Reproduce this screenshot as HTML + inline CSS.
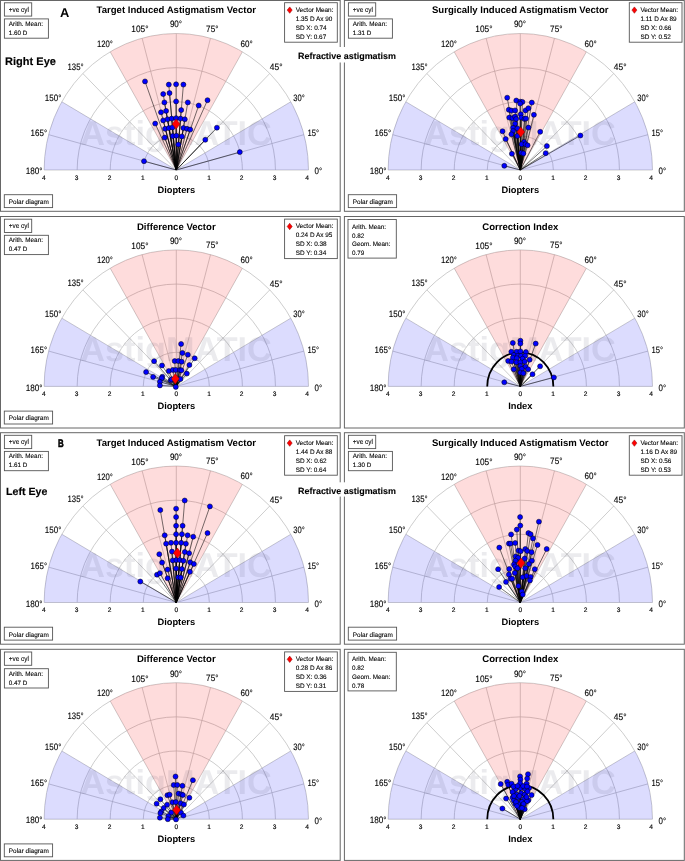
<!DOCTYPE html>
<html><head><meta charset="utf-8"><style>
html,body{margin:0;padding:0;background:#fff;}
svg{display:block;font-family:"Liberation Sans", sans-serif;will-change:transform;text-rendering:geometricPrecision;}
</style></head><body>
<svg width="685" height="861" viewBox="0 0 685 861">
<rect width="685" height="861" fill="#fff"/>
<g transform="translate(0,0)"><rect x="0.50" y="0.50" width="339.70" height="210.80" fill="#fff" stroke="#666" stroke-width="1"/><path d="M209.35,170.00 A33.05,34.12 0 0 0 143.25,170.00" fill="none" stroke="#b8b8b8" stroke-width="0.7"/><path d="M242.40,170.00 A66.10,68.25 0 0 0 110.20,170.00" fill="none" stroke="#b8b8b8" stroke-width="0.7"/><path d="M275.45,170.00 A99.15,102.38 0 0 0 77.15,170.00" fill="none" stroke="#b8b8b8" stroke-width="0.7"/><path d="M308.50,170.00 A132.20,136.50 0 0 0 44.10,170.00" fill="none" stroke="#b8b8b8" stroke-width="0.7"/><line x1="176.3" y1="170.0" x2="308.50" y2="170.00" stroke="#b8b8b8" stroke-width="0.7"/><line x1="176.3" y1="170.0" x2="304.00" y2="134.67" stroke="#b8b8b8" stroke-width="0.7"/><line x1="176.3" y1="170.0" x2="290.79" y2="101.75" stroke="#b8b8b8" stroke-width="0.7"/><line x1="176.3" y1="170.0" x2="269.78" y2="73.48" stroke="#b8b8b8" stroke-width="0.7"/><line x1="176.3" y1="170.0" x2="242.40" y2="51.79" stroke="#b8b8b8" stroke-width="0.7"/><line x1="176.3" y1="170.0" x2="210.52" y2="38.15" stroke="#b8b8b8" stroke-width="0.7"/><line x1="176.3" y1="170.0" x2="176.30" y2="33.50" stroke="#b8b8b8" stroke-width="0.7"/><line x1="176.3" y1="170.0" x2="142.08" y2="38.15" stroke="#b8b8b8" stroke-width="0.7"/><line x1="176.3" y1="170.0" x2="110.20" y2="51.79" stroke="#b8b8b8" stroke-width="0.7"/><line x1="176.3" y1="170.0" x2="82.82" y2="73.48" stroke="#b8b8b8" stroke-width="0.7"/><line x1="176.3" y1="170.0" x2="61.81" y2="101.75" stroke="#b8b8b8" stroke-width="0.7"/><line x1="176.3" y1="170.0" x2="48.60" y2="134.67" stroke="#b8b8b8" stroke-width="0.7"/><line x1="176.3" y1="170.0" x2="44.10" y2="170.00" stroke="#b8b8b8" stroke-width="0.7"/><path d="M176.30,170.00 L308.50,170.00 A132.20,136.50 0 0 0 290.79,101.75 Z" fill="rgba(20,20,245,0.15)"/><path d="M176.30,170.00 L61.81,101.75 A132.20,136.50 0 0 0 44.10,170.00 Z" fill="rgba(20,20,245,0.15)"/><path d="M176.30,170.00 L242.40,51.79 A132.20,136.50 0 0 0 110.20,51.79 Z" fill="rgba(250,20,20,0.15)"/><text x="80.30" y="144.70" font-size="34.5" font-weight="bold" textLength="191.5" lengthAdjust="spacingAndGlyphs" fill="rgba(60,60,90,0.10)">AstigMATIC</text><path d="M176.3,170.0L145.0,81.4M176.3,170.0L168.8,84.6M176.3,170.0L176.1,84.3M176.3,170.0L183.4,84.6M176.3,170.0L163.2,94.1M176.3,170.0L169.5,93.1M176.3,170.0L164.4,102.4M176.3,170.0L176.1,101.4M176.3,170.0L187.8,102.4M176.3,170.0L207.5,100.2M176.3,170.0L198.7,105.5M176.3,170.0L161.0,112.3M176.3,170.0L166.1,110.9M176.3,170.0L181.2,110.1M176.3,170.0L163.2,120.4M176.3,170.0L167.6,119.3M176.3,170.0L171.7,118.6M176.3,170.0L176.1,118.2M176.3,170.0L180.5,118.6M176.3,170.0L184.8,119.3M176.3,170.0L155.2,123.6M176.3,170.0L165.1,128.8M176.3,170.0L168.8,128.1M176.3,170.0L172.4,127.4M176.3,170.0L183.4,128.0M176.3,170.0L187.0,128.8M176.3,170.0L190.2,129.6M176.3,170.0L164.7,137.6M176.3,170.0L172.7,136.1M176.3,170.0L176.4,135.7M176.3,170.0L181.9,136.4M176.3,170.0L178.3,144.5M176.3,170.0L216.9,127.7M176.3,170.0L205.3,139.8M176.3,170.0L144.0,161.2M176.3,170.0L239.8,152.1" stroke="#000" stroke-width="0.55" fill="none"/><g fill="#0000ff" stroke="#000" stroke-width="0.5"><circle cx="145.0" cy="81.4" r="2.5"/><circle cx="168.8" cy="84.6" r="2.5"/><circle cx="176.1" cy="84.3" r="2.5"/><circle cx="183.4" cy="84.6" r="2.5"/><circle cx="163.2" cy="94.1" r="2.5"/><circle cx="169.5" cy="93.1" r="2.5"/><circle cx="164.4" cy="102.4" r="2.5"/><circle cx="176.1" cy="101.4" r="2.5"/><circle cx="187.8" cy="102.4" r="2.5"/><circle cx="207.5" cy="100.2" r="2.5"/><circle cx="198.7" cy="105.5" r="2.5"/><circle cx="161.0" cy="112.3" r="2.5"/><circle cx="166.1" cy="110.9" r="2.5"/><circle cx="181.2" cy="110.1" r="2.5"/><circle cx="163.2" cy="120.4" r="2.5"/><circle cx="167.6" cy="119.3" r="2.5"/><circle cx="171.7" cy="118.6" r="2.5"/><circle cx="176.1" cy="118.2" r="2.5"/><circle cx="180.5" cy="118.6" r="2.5"/><circle cx="184.8" cy="119.3" r="2.5"/><circle cx="155.2" cy="123.6" r="2.5"/><circle cx="165.1" cy="128.8" r="2.5"/><circle cx="168.8" cy="128.1" r="2.5"/><circle cx="172.4" cy="127.4" r="2.5"/><circle cx="183.4" cy="128.0" r="2.5"/><circle cx="187.0" cy="128.8" r="2.5"/><circle cx="190.2" cy="129.6" r="2.5"/><circle cx="164.7" cy="137.6" r="2.5"/><circle cx="172.7" cy="136.1" r="2.5"/><circle cx="176.4" cy="135.7" r="2.5"/><circle cx="181.9" cy="136.4" r="2.5"/><circle cx="178.3" cy="144.5" r="2.5"/><circle cx="216.9" cy="127.7" r="2.5"/><circle cx="205.3" cy="139.8" r="2.5"/><circle cx="144.0" cy="161.2" r="2.5"/><circle cx="239.8" cy="152.1" r="2.5"/></g><path d="M176.10,118.90 L180.05,124.00 L176.10,129.10 L172.15,124.00 Z" fill="#f00" stroke="#800" stroke-width="0.5"/><text x="314.60" y="174.35" font-size="9.2" textLength="7.6" lengthAdjust="spacingAndGlyphs" fill="#000" stroke="#000" stroke-width="0.12">0°</text><text x="307.60" y="136.45" font-size="9.2" textLength="11.6" lengthAdjust="spacingAndGlyphs" fill="#000" stroke="#000" stroke-width="0.12">15°</text><text x="293.20" y="100.75" font-size="9.2" textLength="11.5" lengthAdjust="spacingAndGlyphs" fill="#000" stroke="#000" stroke-width="0.12">30°</text><text x="269.80" y="70.35" font-size="9.2" textLength="12.7" lengthAdjust="spacingAndGlyphs" fill="#000" stroke="#000" stroke-width="0.12">45°</text><text x="240.60" y="46.95" font-size="9.2" textLength="12.2" lengthAdjust="spacingAndGlyphs" fill="#000" stroke="#000" stroke-width="0.12">60°</text><text x="206.10" y="31.95" font-size="9.2" textLength="12.4" lengthAdjust="spacingAndGlyphs" fill="#000" stroke="#000" stroke-width="0.12">75°</text><text x="169.90" y="27.35" font-size="9.2" textLength="12.2" lengthAdjust="spacingAndGlyphs" fill="#000" stroke="#000" stroke-width="0.12">90°</text><text x="131.30" y="32.35" font-size="9.2" textLength="17.2" lengthAdjust="spacingAndGlyphs" fill="#000" stroke="#000" stroke-width="0.12">105°</text><text x="96.90" y="47.05" font-size="9.2" textLength="16.0" lengthAdjust="spacingAndGlyphs" fill="#000" stroke="#000" stroke-width="0.12">120°</text><text x="67.50" y="69.95" font-size="9.2" textLength="16.1" lengthAdjust="spacingAndGlyphs" fill="#000" stroke="#000" stroke-width="0.12">135°</text><text x="44.80" y="100.65" font-size="9.2" textLength="16.6" lengthAdjust="spacingAndGlyphs" fill="#000" stroke="#000" stroke-width="0.12">150°</text><text x="30.60" y="136.45" font-size="9.2" textLength="16.5" lengthAdjust="spacingAndGlyphs" fill="#000" stroke="#000" stroke-width="0.12">165°</text><text x="25.70" y="174.25" font-size="9.2" textLength="16.9" lengthAdjust="spacingAndGlyphs" fill="#000" stroke="#000" stroke-width="0.12">180°</text><text x="43.90" y="179.60" font-size="6.6" text-anchor="middle" fill="#000" stroke="#000" stroke-width="0.15">4</text><text x="76.70" y="179.60" font-size="6.6" text-anchor="middle" fill="#000" stroke="#000" stroke-width="0.15">3</text><text x="109.60" y="179.60" font-size="6.6" text-anchor="middle" fill="#000" stroke="#000" stroke-width="0.15">2</text><text x="142.90" y="179.60" font-size="6.6" text-anchor="middle" fill="#000" stroke="#000" stroke-width="0.15">1</text><text x="176.30" y="179.60" font-size="6.6" text-anchor="middle" fill="#000" stroke="#000" stroke-width="0.15">0</text><text x="209.10" y="179.60" font-size="6.6" text-anchor="middle" fill="#000" stroke="#000" stroke-width="0.15">1</text><text x="241.70" y="179.60" font-size="6.6" text-anchor="middle" fill="#000" stroke="#000" stroke-width="0.15">2</text><text x="274.50" y="179.60" font-size="6.6" text-anchor="middle" fill="#000" stroke="#000" stroke-width="0.15">3</text><text x="307.00" y="179.60" font-size="6.6" text-anchor="middle" fill="#000" stroke="#000" stroke-width="0.15">4</text><text x="176.30" y="192.50" font-size="9.3" font-weight="bold" text-anchor="middle" fill="#000">Diopters</text><text x="176.30" y="13.20" font-size="9.57" font-weight="bold" text-anchor="middle" fill="#000">Target Induced Astigmatism Vector</text><rect x="4.4" y="2.8" width="27.30" height="13.30" fill="#fff" stroke="#555" stroke-width="0.9"/><text x="8.80" y="11.90" font-size="7.0" textLength="20" lengthAdjust="spacingAndGlyphs" fill="#000" stroke="#000" stroke-width="0.1">+ve cyl</text><rect x="4.4" y="18.9" width="44.00" height="19.30" fill="#fff" stroke="#555" stroke-width="0.9"/><text x="8.80" y="25.80" font-size="6.33" fill="#000" stroke="#000" stroke-width="0.1">Arith. Mean:</text><text x="8.80" y="34.90" font-size="6.33" fill="#000" stroke="#000" stroke-width="0.1">1.60 D</text><g transform="translate(0.0,0.0)"><rect x="284.6" y="2.7" width="52.70" height="39.50" fill="#fff" stroke="#555" stroke-width="0.9"/><path d="M289.70,6.90 L292.20,10.10 L289.70,13.30 L287.20,10.10 Z" fill="#f00" stroke="#800" stroke-width="0.5"/><text x="295.70" y="11.80" font-size="6.42" fill="#000" stroke="#000" stroke-width="0.1">Vector Mean:</text><text x="295.70" y="20.80" font-size="6.42" fill="#000" stroke="#000" stroke-width="0.1">1.35 D Ax 90</text><text x="295.70" y="29.80" font-size="6.42" fill="#000" stroke="#000" stroke-width="0.1">SD X: 0.74</text><text x="295.70" y="38.80" font-size="6.42" fill="#000" stroke="#000" stroke-width="0.1">SD Y: 0.67</text></g><rect x="4.3" y="194.7" width="48.30" height="12.90" fill="#fff" stroke="#555" stroke-width="0.9"/><text x="8.80" y="204.10" font-size="6.43" fill="#000" stroke="#000" stroke-width="0.1">Polar diagram</text></g><g transform="translate(344.0,0)"><rect x="0.40" y="0.50" width="339.90" height="210.80" fill="#fff" stroke="#666" stroke-width="1"/><path d="M209.35,170.00 A33.05,34.12 0 0 0 143.25,170.00" fill="none" stroke="#b8b8b8" stroke-width="0.7"/><path d="M242.40,170.00 A66.10,68.25 0 0 0 110.20,170.00" fill="none" stroke="#b8b8b8" stroke-width="0.7"/><path d="M275.45,170.00 A99.15,102.38 0 0 0 77.15,170.00" fill="none" stroke="#b8b8b8" stroke-width="0.7"/><path d="M308.50,170.00 A132.20,136.50 0 0 0 44.10,170.00" fill="none" stroke="#b8b8b8" stroke-width="0.7"/><line x1="176.3" y1="170.0" x2="308.50" y2="170.00" stroke="#b8b8b8" stroke-width="0.7"/><line x1="176.3" y1="170.0" x2="304.00" y2="134.67" stroke="#b8b8b8" stroke-width="0.7"/><line x1="176.3" y1="170.0" x2="290.79" y2="101.75" stroke="#b8b8b8" stroke-width="0.7"/><line x1="176.3" y1="170.0" x2="269.78" y2="73.48" stroke="#b8b8b8" stroke-width="0.7"/><line x1="176.3" y1="170.0" x2="242.40" y2="51.79" stroke="#b8b8b8" stroke-width="0.7"/><line x1="176.3" y1="170.0" x2="210.52" y2="38.15" stroke="#b8b8b8" stroke-width="0.7"/><line x1="176.3" y1="170.0" x2="176.30" y2="33.50" stroke="#b8b8b8" stroke-width="0.7"/><line x1="176.3" y1="170.0" x2="142.08" y2="38.15" stroke="#b8b8b8" stroke-width="0.7"/><line x1="176.3" y1="170.0" x2="110.20" y2="51.79" stroke="#b8b8b8" stroke-width="0.7"/><line x1="176.3" y1="170.0" x2="82.82" y2="73.48" stroke="#b8b8b8" stroke-width="0.7"/><line x1="176.3" y1="170.0" x2="61.81" y2="101.75" stroke="#b8b8b8" stroke-width="0.7"/><line x1="176.3" y1="170.0" x2="48.60" y2="134.67" stroke="#b8b8b8" stroke-width="0.7"/><line x1="176.3" y1="170.0" x2="44.10" y2="170.00" stroke="#b8b8b8" stroke-width="0.7"/><path d="M176.30,170.00 L308.50,170.00 A132.20,136.50 0 0 0 290.79,101.75 Z" fill="rgba(20,20,245,0.15)"/><path d="M176.30,170.00 L61.81,101.75 A132.20,136.50 0 0 0 44.10,170.00 Z" fill="rgba(20,20,245,0.15)"/><path d="M176.30,170.00 L242.40,51.79 A132.20,136.50 0 0 0 110.20,51.79 Z" fill="rgba(250,20,20,0.15)"/><text x="80.30" y="144.70" font-size="34.5" font-weight="bold" textLength="191.5" lengthAdjust="spacingAndGlyphs" fill="rgba(60,60,90,0.10)">AstigMATIC</text><path d="M176.3,170.0L163.2,97.7M176.3,170.0L172.3,100.5M176.3,170.0L176.3,101.7M176.3,170.0L178.4,101.9M176.3,170.0L176.1,103.6M176.3,170.0L187.8,102.6M176.3,170.0L164.8,109.8M176.3,170.0L167.4,110.6M176.3,170.0L171.1,110.4M176.3,170.0L181.5,110.4M176.3,170.0L184.4,108.2M176.3,170.0L176.8,114.3M176.3,170.0L189.9,114.8M176.3,170.0L165.3,117.6M176.3,170.0L168.5,118.2M176.3,170.0L171.1,116.6M176.3,170.0L172.1,119.0M176.3,170.0L177.3,117.6M176.3,170.0L180.5,119.0M176.3,170.0L182.0,118.6M176.3,170.0L171.1,123.7M176.3,170.0L169.0,127.8M176.3,170.0L173.4,128.4M176.3,170.0L184.4,127.6M176.3,170.0L169.0,131.0M176.3,170.0L158.5,131.3M176.3,170.0L167.4,134.3M176.3,170.0L173.4,136.0M176.3,170.0L196.2,131.8M176.3,170.0L161.7,139.1M176.3,170.0L180.0,141.9M176.3,170.0L177.6,144.2M176.3,170.0L181.5,144.2M176.3,170.0L183.6,145.3M176.3,170.0L202.9,146.1M176.3,170.0L167.9,153.8M176.3,170.0L177.3,152.7M176.3,170.0L179.4,153.4M176.3,170.0L201.7,153.2M176.3,170.0L160.3,165.8M176.3,170.0L236.4,135.5" stroke="#000" stroke-width="0.55" fill="none"/><g fill="#0000ff" stroke="#000" stroke-width="0.5"><circle cx="163.2" cy="97.7" r="2.5"/><circle cx="172.3" cy="100.5" r="2.5"/><circle cx="176.3" cy="101.7" r="2.5"/><circle cx="178.4" cy="101.9" r="2.5"/><circle cx="176.1" cy="103.6" r="2.5"/><circle cx="187.8" cy="102.6" r="2.5"/><circle cx="164.8" cy="109.8" r="2.5"/><circle cx="167.4" cy="110.6" r="2.5"/><circle cx="171.1" cy="110.4" r="2.5"/><circle cx="181.5" cy="110.4" r="2.5"/><circle cx="184.4" cy="108.2" r="2.5"/><circle cx="176.8" cy="114.3" r="2.5"/><circle cx="189.9" cy="114.8" r="2.5"/><circle cx="165.3" cy="117.6" r="2.5"/><circle cx="168.5" cy="118.2" r="2.5"/><circle cx="171.1" cy="116.6" r="2.5"/><circle cx="172.1" cy="119.0" r="2.5"/><circle cx="177.3" cy="117.6" r="2.5"/><circle cx="180.5" cy="119.0" r="2.5"/><circle cx="182.0" cy="118.6" r="2.5"/><circle cx="171.1" cy="123.7" r="2.5"/><circle cx="169.0" cy="127.8" r="2.5"/><circle cx="173.4" cy="128.4" r="2.5"/><circle cx="184.4" cy="127.6" r="2.5"/><circle cx="169.0" cy="131.0" r="2.5"/><circle cx="158.5" cy="131.3" r="2.5"/><circle cx="167.4" cy="134.3" r="2.5"/><circle cx="173.4" cy="136.0" r="2.5"/><circle cx="196.2" cy="131.8" r="2.5"/><circle cx="161.7" cy="139.1" r="2.5"/><circle cx="180.0" cy="141.9" r="2.5"/><circle cx="177.6" cy="144.2" r="2.5"/><circle cx="181.5" cy="144.2" r="2.5"/><circle cx="183.6" cy="145.3" r="2.5"/><circle cx="202.9" cy="146.1" r="2.5"/><circle cx="167.9" cy="153.8" r="2.5"/><circle cx="177.3" cy="152.7" r="2.5"/><circle cx="179.4" cy="153.4" r="2.5"/><circle cx="201.7" cy="153.2" r="2.5"/><circle cx="160.3" cy="165.8" r="2.5"/><circle cx="236.4" cy="135.5" r="2.5"/></g><path d="M176.80,126.90 L180.75,132.00 L176.80,137.10 L172.85,132.00 Z" fill="#f00" stroke="#800" stroke-width="0.5"/><text x="314.60" y="174.35" font-size="9.2" textLength="7.6" lengthAdjust="spacingAndGlyphs" fill="#000" stroke="#000" stroke-width="0.12">0°</text><text x="307.60" y="136.45" font-size="9.2" textLength="11.6" lengthAdjust="spacingAndGlyphs" fill="#000" stroke="#000" stroke-width="0.12">15°</text><text x="293.20" y="100.75" font-size="9.2" textLength="11.5" lengthAdjust="spacingAndGlyphs" fill="#000" stroke="#000" stroke-width="0.12">30°</text><text x="269.80" y="70.35" font-size="9.2" textLength="12.7" lengthAdjust="spacingAndGlyphs" fill="#000" stroke="#000" stroke-width="0.12">45°</text><text x="240.60" y="46.95" font-size="9.2" textLength="12.2" lengthAdjust="spacingAndGlyphs" fill="#000" stroke="#000" stroke-width="0.12">60°</text><text x="206.10" y="31.95" font-size="9.2" textLength="12.4" lengthAdjust="spacingAndGlyphs" fill="#000" stroke="#000" stroke-width="0.12">75°</text><text x="169.90" y="27.35" font-size="9.2" textLength="12.2" lengthAdjust="spacingAndGlyphs" fill="#000" stroke="#000" stroke-width="0.12">90°</text><text x="131.30" y="32.35" font-size="9.2" textLength="17.2" lengthAdjust="spacingAndGlyphs" fill="#000" stroke="#000" stroke-width="0.12">105°</text><text x="96.90" y="47.05" font-size="9.2" textLength="16.0" lengthAdjust="spacingAndGlyphs" fill="#000" stroke="#000" stroke-width="0.12">120°</text><text x="67.50" y="69.95" font-size="9.2" textLength="16.1" lengthAdjust="spacingAndGlyphs" fill="#000" stroke="#000" stroke-width="0.12">135°</text><text x="44.80" y="100.65" font-size="9.2" textLength="16.6" lengthAdjust="spacingAndGlyphs" fill="#000" stroke="#000" stroke-width="0.12">150°</text><text x="30.60" y="136.45" font-size="9.2" textLength="16.5" lengthAdjust="spacingAndGlyphs" fill="#000" stroke="#000" stroke-width="0.12">165°</text><text x="25.70" y="174.25" font-size="9.2" textLength="16.9" lengthAdjust="spacingAndGlyphs" fill="#000" stroke="#000" stroke-width="0.12">180°</text><text x="43.90" y="179.60" font-size="6.6" text-anchor="middle" fill="#000" stroke="#000" stroke-width="0.15">4</text><text x="76.70" y="179.60" font-size="6.6" text-anchor="middle" fill="#000" stroke="#000" stroke-width="0.15">3</text><text x="109.60" y="179.60" font-size="6.6" text-anchor="middle" fill="#000" stroke="#000" stroke-width="0.15">2</text><text x="142.90" y="179.60" font-size="6.6" text-anchor="middle" fill="#000" stroke="#000" stroke-width="0.15">1</text><text x="176.30" y="179.60" font-size="6.6" text-anchor="middle" fill="#000" stroke="#000" stroke-width="0.15">0</text><text x="209.10" y="179.60" font-size="6.6" text-anchor="middle" fill="#000" stroke="#000" stroke-width="0.15">1</text><text x="241.70" y="179.60" font-size="6.6" text-anchor="middle" fill="#000" stroke="#000" stroke-width="0.15">2</text><text x="274.50" y="179.60" font-size="6.6" text-anchor="middle" fill="#000" stroke="#000" stroke-width="0.15">3</text><text x="307.00" y="179.60" font-size="6.6" text-anchor="middle" fill="#000" stroke="#000" stroke-width="0.15">4</text><text x="176.30" y="192.50" font-size="9.3" font-weight="bold" text-anchor="middle" fill="#000">Diopters</text><text x="176.30" y="13.20" font-size="9.57" font-weight="bold" text-anchor="middle" fill="#000">Surgically Induced Astigmatism Vector</text><rect x="4.4" y="2.8" width="27.30" height="13.30" fill="#fff" stroke="#555" stroke-width="0.9"/><text x="8.80" y="11.90" font-size="7.0" textLength="20" lengthAdjust="spacingAndGlyphs" fill="#000" stroke="#000" stroke-width="0.1">+ve cyl</text><rect x="4.4" y="18.9" width="44.00" height="19.30" fill="#fff" stroke="#555" stroke-width="0.9"/><text x="8.80" y="25.80" font-size="6.33" fill="#000" stroke="#000" stroke-width="0.1">Arith. Mean:</text><text x="8.80" y="34.90" font-size="6.33" fill="#000" stroke="#000" stroke-width="0.1">1.31 D</text><g transform="translate(0.7,0.0)"><rect x="284.6" y="2.7" width="52.70" height="39.50" fill="#fff" stroke="#555" stroke-width="0.9"/><path d="M289.70,6.90 L292.20,10.10 L289.70,13.30 L287.20,10.10 Z" fill="#f00" stroke="#800" stroke-width="0.5"/><text x="295.70" y="11.80" font-size="6.42" fill="#000" stroke="#000" stroke-width="0.1">Vector Mean:</text><text x="295.70" y="20.80" font-size="6.42" fill="#000" stroke="#000" stroke-width="0.1">1.11 D Ax 89</text><text x="295.70" y="29.80" font-size="6.42" fill="#000" stroke="#000" stroke-width="0.1">SD X: 0.66</text><text x="295.70" y="38.80" font-size="6.42" fill="#000" stroke="#000" stroke-width="0.1">SD Y: 0.52</text></g><rect x="4.3" y="194.7" width="48.30" height="12.90" fill="#fff" stroke="#555" stroke-width="0.9"/><text x="8.80" y="204.10" font-size="6.43" fill="#000" stroke="#000" stroke-width="0.1">Polar diagram</text></g><g transform="translate(0,216.4)"><rect x="0.50" y="0.10" width="339.70" height="211.50" fill="#fff" stroke="#666" stroke-width="1"/><path d="M209.35,170.00 A33.05,34.12 0 0 0 143.25,170.00" fill="none" stroke="#b8b8b8" stroke-width="0.7"/><path d="M242.40,170.00 A66.10,68.25 0 0 0 110.20,170.00" fill="none" stroke="#b8b8b8" stroke-width="0.7"/><path d="M275.45,170.00 A99.15,102.38 0 0 0 77.15,170.00" fill="none" stroke="#b8b8b8" stroke-width="0.7"/><path d="M308.50,170.00 A132.20,136.50 0 0 0 44.10,170.00" fill="none" stroke="#b8b8b8" stroke-width="0.7"/><line x1="176.3" y1="170.0" x2="308.50" y2="170.00" stroke="#b8b8b8" stroke-width="0.7"/><line x1="176.3" y1="170.0" x2="304.00" y2="134.67" stroke="#b8b8b8" stroke-width="0.7"/><line x1="176.3" y1="170.0" x2="290.79" y2="101.75" stroke="#b8b8b8" stroke-width="0.7"/><line x1="176.3" y1="170.0" x2="269.78" y2="73.48" stroke="#b8b8b8" stroke-width="0.7"/><line x1="176.3" y1="170.0" x2="242.40" y2="51.79" stroke="#b8b8b8" stroke-width="0.7"/><line x1="176.3" y1="170.0" x2="210.52" y2="38.15" stroke="#b8b8b8" stroke-width="0.7"/><line x1="176.3" y1="170.0" x2="176.30" y2="33.50" stroke="#b8b8b8" stroke-width="0.7"/><line x1="176.3" y1="170.0" x2="142.08" y2="38.15" stroke="#b8b8b8" stroke-width="0.7"/><line x1="176.3" y1="170.0" x2="110.20" y2="51.79" stroke="#b8b8b8" stroke-width="0.7"/><line x1="176.3" y1="170.0" x2="82.82" y2="73.48" stroke="#b8b8b8" stroke-width="0.7"/><line x1="176.3" y1="170.0" x2="61.81" y2="101.75" stroke="#b8b8b8" stroke-width="0.7"/><line x1="176.3" y1="170.0" x2="48.60" y2="134.67" stroke="#b8b8b8" stroke-width="0.7"/><line x1="176.3" y1="170.0" x2="44.10" y2="170.00" stroke="#b8b8b8" stroke-width="0.7"/><path d="M176.30,170.00 L308.50,170.00 A132.20,136.50 0 0 0 290.79,101.75 Z" fill="rgba(20,20,245,0.15)"/><path d="M176.30,170.00 L61.81,101.75 A132.20,136.50 0 0 0 44.10,170.00 Z" fill="rgba(20,20,245,0.15)"/><path d="M176.30,170.00 L242.40,51.79 A132.20,136.50 0 0 0 110.20,51.79 Z" fill="rgba(250,20,20,0.15)"/><text x="80.30" y="144.70" font-size="34.5" font-weight="bold" textLength="191.5" lengthAdjust="spacingAndGlyphs" fill="rgba(60,60,90,0.10)">AstigMATIC</text><path d="M176.3,170.0L181.1,127.6M176.3,170.0L182.4,136.5M176.3,170.0L187.8,138.3M176.3,170.0L194.7,141.9M176.3,170.0L154.1,144.8M176.3,170.0L162.0,149.1M176.3,170.0L174.7,144.7M176.3,170.0L178.3,144.7M176.3,170.0L181.7,145.3M176.3,170.0L189.4,148.6M176.3,170.0L146.1,155.7M176.3,170.0L168.8,154.7M176.3,170.0L172.9,153.5M176.3,170.0L175.8,153.5M176.3,170.0L179.9,153.7M176.3,170.0L181.4,153.9M176.3,170.0L186.8,157.2M176.3,170.0L153.1,160.5M176.3,170.0L162.3,160.3M176.3,170.0L161.7,161.8M176.3,170.0L170.7,163.9M176.3,170.0L180.4,162.7M176.3,170.0L159.9,165.4M176.3,170.0L159.9,169.0M176.3,170.0L175.8,170.5M176.3,170.0L171.7,162.9" stroke="#000" stroke-width="0.55" fill="none"/><g fill="#0000ff" stroke="#000" stroke-width="0.5"><circle cx="181.1" cy="127.6" r="2.5"/><circle cx="182.4" cy="136.5" r="2.5"/><circle cx="187.8" cy="138.3" r="2.5"/><circle cx="194.7" cy="141.9" r="2.5"/><circle cx="154.1" cy="144.8" r="2.5"/><circle cx="162.0" cy="149.1" r="2.5"/><circle cx="174.7" cy="144.7" r="2.5"/><circle cx="178.3" cy="144.7" r="2.5"/><circle cx="181.7" cy="145.3" r="2.5"/><circle cx="189.4" cy="148.6" r="2.5"/><circle cx="146.1" cy="155.7" r="2.5"/><circle cx="168.8" cy="154.7" r="2.5"/><circle cx="172.9" cy="153.5" r="2.5"/><circle cx="175.8" cy="153.5" r="2.5"/><circle cx="179.9" cy="153.7" r="2.5"/><circle cx="181.4" cy="153.9" r="2.5"/><circle cx="186.8" cy="157.2" r="2.5"/><circle cx="153.1" cy="160.5" r="2.5"/><circle cx="162.3" cy="160.3" r="2.5"/><circle cx="161.7" cy="161.8" r="2.5"/><circle cx="170.7" cy="163.9" r="2.5"/><circle cx="180.4" cy="162.7" r="2.5"/><circle cx="159.9" cy="165.4" r="2.5"/><circle cx="159.9" cy="169.0" r="2.5"/><circle cx="175.8" cy="170.5" r="2.5"/><circle cx="171.7" cy="162.9" r="2.5"/></g><path d="M175.30,157.30 L179.25,162.40 L175.30,167.50 L171.35,162.40 Z" fill="#f00" stroke="#800" stroke-width="0.5"/><text x="314.60" y="174.35" font-size="9.2" textLength="7.6" lengthAdjust="spacingAndGlyphs" fill="#000" stroke="#000" stroke-width="0.12">0°</text><text x="307.60" y="136.45" font-size="9.2" textLength="11.6" lengthAdjust="spacingAndGlyphs" fill="#000" stroke="#000" stroke-width="0.12">15°</text><text x="293.20" y="100.75" font-size="9.2" textLength="11.5" lengthAdjust="spacingAndGlyphs" fill="#000" stroke="#000" stroke-width="0.12">30°</text><text x="269.80" y="70.35" font-size="9.2" textLength="12.7" lengthAdjust="spacingAndGlyphs" fill="#000" stroke="#000" stroke-width="0.12">45°</text><text x="240.60" y="46.95" font-size="9.2" textLength="12.2" lengthAdjust="spacingAndGlyphs" fill="#000" stroke="#000" stroke-width="0.12">60°</text><text x="206.10" y="31.95" font-size="9.2" textLength="12.4" lengthAdjust="spacingAndGlyphs" fill="#000" stroke="#000" stroke-width="0.12">75°</text><text x="169.90" y="27.35" font-size="9.2" textLength="12.2" lengthAdjust="spacingAndGlyphs" fill="#000" stroke="#000" stroke-width="0.12">90°</text><text x="131.30" y="32.35" font-size="9.2" textLength="17.2" lengthAdjust="spacingAndGlyphs" fill="#000" stroke="#000" stroke-width="0.12">105°</text><text x="96.90" y="47.05" font-size="9.2" textLength="16.0" lengthAdjust="spacingAndGlyphs" fill="#000" stroke="#000" stroke-width="0.12">120°</text><text x="67.50" y="69.95" font-size="9.2" textLength="16.1" lengthAdjust="spacingAndGlyphs" fill="#000" stroke="#000" stroke-width="0.12">135°</text><text x="44.80" y="100.65" font-size="9.2" textLength="16.6" lengthAdjust="spacingAndGlyphs" fill="#000" stroke="#000" stroke-width="0.12">150°</text><text x="30.60" y="136.45" font-size="9.2" textLength="16.5" lengthAdjust="spacingAndGlyphs" fill="#000" stroke="#000" stroke-width="0.12">165°</text><text x="25.70" y="174.25" font-size="9.2" textLength="16.9" lengthAdjust="spacingAndGlyphs" fill="#000" stroke="#000" stroke-width="0.12">180°</text><text x="43.90" y="179.60" font-size="6.6" text-anchor="middle" fill="#000" stroke="#000" stroke-width="0.15">4</text><text x="76.70" y="179.60" font-size="6.6" text-anchor="middle" fill="#000" stroke="#000" stroke-width="0.15">3</text><text x="109.60" y="179.60" font-size="6.6" text-anchor="middle" fill="#000" stroke="#000" stroke-width="0.15">2</text><text x="142.90" y="179.60" font-size="6.6" text-anchor="middle" fill="#000" stroke="#000" stroke-width="0.15">1</text><text x="176.30" y="179.60" font-size="6.6" text-anchor="middle" fill="#000" stroke="#000" stroke-width="0.15">0</text><text x="209.10" y="179.60" font-size="6.6" text-anchor="middle" fill="#000" stroke="#000" stroke-width="0.15">1</text><text x="241.70" y="179.60" font-size="6.6" text-anchor="middle" fill="#000" stroke="#000" stroke-width="0.15">2</text><text x="274.50" y="179.60" font-size="6.6" text-anchor="middle" fill="#000" stroke="#000" stroke-width="0.15">3</text><text x="307.00" y="179.60" font-size="6.6" text-anchor="middle" fill="#000" stroke="#000" stroke-width="0.15">4</text><text x="176.30" y="192.50" font-size="9.3" font-weight="bold" text-anchor="middle" fill="#000">Diopters</text><text x="176.30" y="13.20" font-size="9.57" font-weight="bold" text-anchor="middle" fill="#000">Difference Vector</text><rect x="4.4" y="2.8" width="27.30" height="13.30" fill="#fff" stroke="#555" stroke-width="0.9"/><text x="8.80" y="11.90" font-size="7.0" textLength="20" lengthAdjust="spacingAndGlyphs" fill="#000" stroke="#000" stroke-width="0.1">+ve cyl</text><rect x="4.4" y="18.9" width="44.00" height="19.30" fill="#fff" stroke="#555" stroke-width="0.9"/><text x="8.80" y="25.80" font-size="6.33" fill="#000" stroke="#000" stroke-width="0.1">Arith. Mean:</text><text x="8.80" y="34.90" font-size="6.33" fill="#000" stroke="#000" stroke-width="0.1">0.47 D</text><g transform="translate(0.0,0.0)"><rect x="284.6" y="2.7" width="52.70" height="39.50" fill="#fff" stroke="#555" stroke-width="0.9"/><path d="M289.70,6.90 L292.20,10.10 L289.70,13.30 L287.20,10.10 Z" fill="#f00" stroke="#800" stroke-width="0.5"/><text x="295.70" y="11.80" font-size="6.42" fill="#000" stroke="#000" stroke-width="0.1">Vector Mean:</text><text x="295.70" y="20.80" font-size="6.42" fill="#000" stroke="#000" stroke-width="0.1">0.24 D Ax 95</text><text x="295.70" y="29.80" font-size="6.42" fill="#000" stroke="#000" stroke-width="0.1">SD X: 0.38</text><text x="295.70" y="38.80" font-size="6.42" fill="#000" stroke="#000" stroke-width="0.1">SD Y: 0.34</text></g><rect x="4.3" y="194.7" width="48.30" height="12.90" fill="#fff" stroke="#555" stroke-width="0.9"/><text x="8.80" y="204.10" font-size="6.43" fill="#000" stroke="#000" stroke-width="0.1">Polar diagram</text></g><g transform="translate(344.0,216.4)"><rect x="0.40" y="0.10" width="339.90" height="211.50" fill="#fff" stroke="#666" stroke-width="1"/><path d="M209.35,170.00 A33.05,34.12 0 0 0 143.25,170.00" fill="none" stroke="#b8b8b8" stroke-width="0.7"/><path d="M242.40,170.00 A66.10,68.25 0 0 0 110.20,170.00" fill="none" stroke="#b8b8b8" stroke-width="0.7"/><path d="M275.45,170.00 A99.15,102.38 0 0 0 77.15,170.00" fill="none" stroke="#b8b8b8" stroke-width="0.7"/><path d="M308.50,170.00 A132.20,136.50 0 0 0 44.10,170.00" fill="none" stroke="#b8b8b8" stroke-width="0.7"/><line x1="176.3" y1="170.0" x2="308.50" y2="170.00" stroke="#b8b8b8" stroke-width="0.7"/><line x1="176.3" y1="170.0" x2="304.00" y2="134.67" stroke="#b8b8b8" stroke-width="0.7"/><line x1="176.3" y1="170.0" x2="290.79" y2="101.75" stroke="#b8b8b8" stroke-width="0.7"/><line x1="176.3" y1="170.0" x2="269.78" y2="73.48" stroke="#b8b8b8" stroke-width="0.7"/><line x1="176.3" y1="170.0" x2="242.40" y2="51.79" stroke="#b8b8b8" stroke-width="0.7"/><line x1="176.3" y1="170.0" x2="210.52" y2="38.15" stroke="#b8b8b8" stroke-width="0.7"/><line x1="176.3" y1="170.0" x2="176.30" y2="33.50" stroke="#b8b8b8" stroke-width="0.7"/><line x1="176.3" y1="170.0" x2="142.08" y2="38.15" stroke="#b8b8b8" stroke-width="0.7"/><line x1="176.3" y1="170.0" x2="110.20" y2="51.79" stroke="#b8b8b8" stroke-width="0.7"/><line x1="176.3" y1="170.0" x2="82.82" y2="73.48" stroke="#b8b8b8" stroke-width="0.7"/><line x1="176.3" y1="170.0" x2="61.81" y2="101.75" stroke="#b8b8b8" stroke-width="0.7"/><line x1="176.3" y1="170.0" x2="48.60" y2="134.67" stroke="#b8b8b8" stroke-width="0.7"/><line x1="176.3" y1="170.0" x2="44.10" y2="170.00" stroke="#b8b8b8" stroke-width="0.7"/><path d="M176.30,170.00 L308.50,170.00 A132.20,136.50 0 0 0 290.79,101.75 Z" fill="rgba(20,20,245,0.15)"/><path d="M176.30,170.00 L61.81,101.75 A132.20,136.50 0 0 0 44.10,170.00 Z" fill="rgba(20,20,245,0.15)"/><path d="M176.30,170.00 L242.40,51.79 A132.20,136.50 0 0 0 110.20,51.79 Z" fill="rgba(250,20,20,0.15)"/><text x="80.30" y="144.70" font-size="34.5" font-weight="bold" textLength="191.5" lengthAdjust="spacingAndGlyphs" fill="rgba(60,60,90,0.10)">AstigMATIC</text><path d="M209.35,170.00 A33.05,34.12 0 0 0 143.25,170.00" fill="none" stroke="#000" stroke-width="1.8"/><path d="M176.3,170.0L168.8,126.5M176.3,170.0L176.4,124.3M176.3,170.0L176.4,127.2M176.3,170.0L191.7,127.2M176.3,170.0L167.3,135.4M176.3,170.0L172.7,135.4M176.3,170.0L176.4,135.0M176.3,170.0L181.9,135.7M176.3,170.0L169.8,138.6M176.3,170.0L173.9,139.4M176.3,170.0L177.1,139.4M176.3,170.0L181.2,139.4M176.3,170.0L168.8,141.3M176.3,170.0L172.7,141.8M176.3,170.0L178.6,142.3M176.3,170.0L185.6,143.3M176.3,170.0L164.2,144.5M176.3,170.0L167.6,145.2M176.3,170.0L172.4,145.9M176.3,170.0L176.4,145.9M176.3,170.0L180.7,145.2M176.3,170.0L176.4,149.6M176.3,170.0L181.5,150.3M176.3,170.0L169.8,152.9M176.3,170.0L177.8,152.5M176.3,170.0L184.1,152.9M176.3,170.0L196.1,149.9M176.3,170.0L176.4,156.2M176.3,170.0L179.3,156.9M176.3,170.0L188.5,157.9M176.3,170.0L209.9,161.0M176.3,170.0L160.3,165.9" stroke="#000" stroke-width="0.55" fill="none"/><g fill="#0000ff" stroke="#000" stroke-width="0.5"><circle cx="168.8" cy="126.5" r="2.5"/><circle cx="176.4" cy="124.3" r="2.5"/><circle cx="176.4" cy="127.2" r="2.5"/><circle cx="191.7" cy="127.2" r="2.5"/><circle cx="167.3" cy="135.4" r="2.5"/><circle cx="172.7" cy="135.4" r="2.5"/><circle cx="176.4" cy="135.0" r="2.5"/><circle cx="181.9" cy="135.7" r="2.5"/><circle cx="169.8" cy="138.6" r="2.5"/><circle cx="173.9" cy="139.4" r="2.5"/><circle cx="177.1" cy="139.4" r="2.5"/><circle cx="181.2" cy="139.4" r="2.5"/><circle cx="168.8" cy="141.3" r="2.5"/><circle cx="172.7" cy="141.8" r="2.5"/><circle cx="178.6" cy="142.3" r="2.5"/><circle cx="185.6" cy="143.3" r="2.5"/><circle cx="164.2" cy="144.5" r="2.5"/><circle cx="167.6" cy="145.2" r="2.5"/><circle cx="172.4" cy="145.9" r="2.5"/><circle cx="176.4" cy="145.9" r="2.5"/><circle cx="180.7" cy="145.2" r="2.5"/><circle cx="176.4" cy="149.6" r="2.5"/><circle cx="181.5" cy="150.3" r="2.5"/><circle cx="169.8" cy="152.9" r="2.5"/><circle cx="177.8" cy="152.5" r="2.5"/><circle cx="184.1" cy="152.9" r="2.5"/><circle cx="196.1" cy="149.9" r="2.5"/><circle cx="176.4" cy="156.2" r="2.5"/><circle cx="179.3" cy="156.9" r="2.5"/><circle cx="188.5" cy="157.9" r="2.5"/><circle cx="209.9" cy="161.0" r="2.5"/><circle cx="160.3" cy="165.9" r="2.5"/></g><text x="314.60" y="174.35" font-size="9.2" textLength="7.6" lengthAdjust="spacingAndGlyphs" fill="#000" stroke="#000" stroke-width="0.12">0°</text><text x="307.60" y="136.45" font-size="9.2" textLength="11.6" lengthAdjust="spacingAndGlyphs" fill="#000" stroke="#000" stroke-width="0.12">15°</text><text x="293.20" y="100.75" font-size="9.2" textLength="11.5" lengthAdjust="spacingAndGlyphs" fill="#000" stroke="#000" stroke-width="0.12">30°</text><text x="269.80" y="70.35" font-size="9.2" textLength="12.7" lengthAdjust="spacingAndGlyphs" fill="#000" stroke="#000" stroke-width="0.12">45°</text><text x="240.60" y="46.95" font-size="9.2" textLength="12.2" lengthAdjust="spacingAndGlyphs" fill="#000" stroke="#000" stroke-width="0.12">60°</text><text x="206.10" y="31.95" font-size="9.2" textLength="12.4" lengthAdjust="spacingAndGlyphs" fill="#000" stroke="#000" stroke-width="0.12">75°</text><text x="169.90" y="27.35" font-size="9.2" textLength="12.2" lengthAdjust="spacingAndGlyphs" fill="#000" stroke="#000" stroke-width="0.12">90°</text><text x="131.30" y="32.35" font-size="9.2" textLength="17.2" lengthAdjust="spacingAndGlyphs" fill="#000" stroke="#000" stroke-width="0.12">105°</text><text x="96.90" y="47.05" font-size="9.2" textLength="16.0" lengthAdjust="spacingAndGlyphs" fill="#000" stroke="#000" stroke-width="0.12">120°</text><text x="67.50" y="69.95" font-size="9.2" textLength="16.1" lengthAdjust="spacingAndGlyphs" fill="#000" stroke="#000" stroke-width="0.12">135°</text><text x="44.80" y="100.65" font-size="9.2" textLength="16.6" lengthAdjust="spacingAndGlyphs" fill="#000" stroke="#000" stroke-width="0.12">150°</text><text x="30.60" y="136.45" font-size="9.2" textLength="16.5" lengthAdjust="spacingAndGlyphs" fill="#000" stroke="#000" stroke-width="0.12">165°</text><text x="25.70" y="174.25" font-size="9.2" textLength="16.9" lengthAdjust="spacingAndGlyphs" fill="#000" stroke="#000" stroke-width="0.12">180°</text><text x="43.90" y="179.60" font-size="6.6" text-anchor="middle" fill="#000" stroke="#000" stroke-width="0.15">4</text><text x="76.70" y="179.60" font-size="6.6" text-anchor="middle" fill="#000" stroke="#000" stroke-width="0.15">3</text><text x="109.60" y="179.60" font-size="6.6" text-anchor="middle" fill="#000" stroke="#000" stroke-width="0.15">2</text><text x="142.90" y="179.60" font-size="6.6" text-anchor="middle" fill="#000" stroke="#000" stroke-width="0.15">1</text><text x="176.30" y="179.60" font-size="6.6" text-anchor="middle" fill="#000" stroke="#000" stroke-width="0.15">0</text><text x="209.10" y="179.60" font-size="6.6" text-anchor="middle" fill="#000" stroke="#000" stroke-width="0.15">1</text><text x="241.70" y="179.60" font-size="6.6" text-anchor="middle" fill="#000" stroke="#000" stroke-width="0.15">2</text><text x="274.50" y="179.60" font-size="6.6" text-anchor="middle" fill="#000" stroke="#000" stroke-width="0.15">3</text><text x="307.00" y="179.60" font-size="6.6" text-anchor="middle" fill="#000" stroke="#000" stroke-width="0.15">4</text><text x="176.30" y="192.50" font-size="9.3" font-weight="bold" text-anchor="middle" fill="#000">Index</text><text x="176.30" y="13.20" font-size="9.57" font-weight="bold" text-anchor="middle" fill="#000">Correction Index</text><rect x="4.0" y="3.1" width="48.30" height="38.60" fill="#fff" stroke="#555" stroke-width="0.9"/><text x="8.00" y="12.20" font-size="6.33" fill="#000" stroke="#000" stroke-width="0.1">Arith. Mean:</text><text x="8.00" y="21.15" font-size="6.33" fill="#000" stroke="#000" stroke-width="0.1">0.82</text><text x="8.00" y="30.10" font-size="6.33" fill="#000" stroke="#000" stroke-width="0.1">Geom. Mean:</text><text x="8.00" y="39.05" font-size="6.33" fill="#000" stroke="#000" stroke-width="0.1">0.79</text></g><g transform="translate(0,432.5)"><rect x="0.50" y="0.20" width="339.70" height="211.50" fill="#fff" stroke="#666" stroke-width="1"/><path d="M209.35,170.00 A33.05,34.12 0 0 0 143.25,170.00" fill="none" stroke="#b8b8b8" stroke-width="0.7"/><path d="M242.40,170.00 A66.10,68.25 0 0 0 110.20,170.00" fill="none" stroke="#b8b8b8" stroke-width="0.7"/><path d="M275.45,170.00 A99.15,102.38 0 0 0 77.15,170.00" fill="none" stroke="#b8b8b8" stroke-width="0.7"/><path d="M308.50,170.00 A132.20,136.50 0 0 0 44.10,170.00" fill="none" stroke="#b8b8b8" stroke-width="0.7"/><line x1="176.3" y1="170.0" x2="308.50" y2="170.00" stroke="#b8b8b8" stroke-width="0.7"/><line x1="176.3" y1="170.0" x2="304.00" y2="134.67" stroke="#b8b8b8" stroke-width="0.7"/><line x1="176.3" y1="170.0" x2="290.79" y2="101.75" stroke="#b8b8b8" stroke-width="0.7"/><line x1="176.3" y1="170.0" x2="269.78" y2="73.48" stroke="#b8b8b8" stroke-width="0.7"/><line x1="176.3" y1="170.0" x2="242.40" y2="51.79" stroke="#b8b8b8" stroke-width="0.7"/><line x1="176.3" y1="170.0" x2="210.52" y2="38.15" stroke="#b8b8b8" stroke-width="0.7"/><line x1="176.3" y1="170.0" x2="176.30" y2="33.50" stroke="#b8b8b8" stroke-width="0.7"/><line x1="176.3" y1="170.0" x2="142.08" y2="38.15" stroke="#b8b8b8" stroke-width="0.7"/><line x1="176.3" y1="170.0" x2="110.20" y2="51.79" stroke="#b8b8b8" stroke-width="0.7"/><line x1="176.3" y1="170.0" x2="82.82" y2="73.48" stroke="#b8b8b8" stroke-width="0.7"/><line x1="176.3" y1="170.0" x2="61.81" y2="101.75" stroke="#b8b8b8" stroke-width="0.7"/><line x1="176.3" y1="170.0" x2="48.60" y2="134.67" stroke="#b8b8b8" stroke-width="0.7"/><line x1="176.3" y1="170.0" x2="44.10" y2="170.00" stroke="#b8b8b8" stroke-width="0.7"/><path d="M176.30,170.00 L308.50,170.00 A132.20,136.50 0 0 0 290.79,101.75 Z" fill="rgba(20,20,245,0.15)"/><path d="M176.30,170.00 L61.81,101.75 A132.20,136.50 0 0 0 44.10,170.00 Z" fill="rgba(20,20,245,0.15)"/><path d="M176.30,170.00 L242.40,51.79 A132.20,136.50 0 0 0 110.20,51.79 Z" fill="rgba(250,20,20,0.15)"/><text x="80.30" y="144.70" font-size="34.5" font-weight="bold" textLength="191.5" lengthAdjust="spacingAndGlyphs" fill="rgba(60,60,90,0.10)">AstigMATIC</text><path d="M176.3,170.0L184.7,68.0M176.3,170.0L209.9,73.9M176.3,170.0L160.3,77.6M176.3,170.0L176.1,76.2M176.3,170.0L176.1,84.5M176.3,170.0L176.1,93.3M176.3,170.0L182.6,93.3M176.3,170.0L207.5,100.6M176.3,170.0L164.7,102.8M176.3,170.0L176.1,101.7M176.3,170.0L181.9,101.7M176.3,170.0L187.6,102.8M176.3,170.0L193.2,104.2M176.3,170.0L166.1,111.2M176.3,170.0L171.0,110.3M176.3,170.0L176.1,110.3M176.3,170.0L181.2,110.3M176.3,170.0L185.9,111.2M176.3,170.0L172.0,119.1M176.3,170.0L184.8,119.5M176.3,170.0L189.1,120.7M176.3,170.0L159.3,121.7M176.3,170.0L172.7,127.9M176.3,170.0L176.4,127.6M176.3,170.0L179.7,127.6M176.3,170.0L183.4,128.3M176.3,170.0L190.2,129.8M176.3,170.0L193.9,131.5M176.3,170.0L162.1,130.1M176.3,170.0L167.6,137.1M176.3,170.0L176.1,136.0M176.3,170.0L181.9,136.6M176.3,170.0L189.9,139.3M176.3,170.0L157.0,142.2M176.3,170.0L159.9,140.7M176.3,170.0L167.6,145.8M176.3,170.0L178.3,144.8M176.3,170.0L180.7,145.1M176.3,170.0L140.3,149.0" stroke="#000" stroke-width="0.55" fill="none"/><g fill="#0000ff" stroke="#000" stroke-width="0.5"><circle cx="184.7" cy="68.0" r="2.5"/><circle cx="209.9" cy="73.9" r="2.5"/><circle cx="160.3" cy="77.6" r="2.5"/><circle cx="176.1" cy="76.2" r="2.5"/><circle cx="176.1" cy="84.5" r="2.5"/><circle cx="176.1" cy="93.3" r="2.5"/><circle cx="182.6" cy="93.3" r="2.5"/><circle cx="207.5" cy="100.6" r="2.5"/><circle cx="164.7" cy="102.8" r="2.5"/><circle cx="176.1" cy="101.7" r="2.5"/><circle cx="181.9" cy="101.7" r="2.5"/><circle cx="187.6" cy="102.8" r="2.5"/><circle cx="193.2" cy="104.2" r="2.5"/><circle cx="166.1" cy="111.2" r="2.5"/><circle cx="171.0" cy="110.3" r="2.5"/><circle cx="176.1" cy="110.3" r="2.5"/><circle cx="181.2" cy="110.3" r="2.5"/><circle cx="185.9" cy="111.2" r="2.5"/><circle cx="172.0" cy="119.1" r="2.5"/><circle cx="184.8" cy="119.5" r="2.5"/><circle cx="189.1" cy="120.7" r="2.5"/><circle cx="159.3" cy="121.7" r="2.5"/><circle cx="172.7" cy="127.9" r="2.5"/><circle cx="176.4" cy="127.6" r="2.5"/><circle cx="179.7" cy="127.6" r="2.5"/><circle cx="183.4" cy="128.3" r="2.5"/><circle cx="190.2" cy="129.8" r="2.5"/><circle cx="193.9" cy="131.5" r="2.5"/><circle cx="162.1" cy="130.1" r="2.5"/><circle cx="167.6" cy="137.1" r="2.5"/><circle cx="176.1" cy="136.0" r="2.5"/><circle cx="181.9" cy="136.6" r="2.5"/><circle cx="189.9" cy="139.3" r="2.5"/><circle cx="157.0" cy="142.2" r="2.5"/><circle cx="159.9" cy="140.7" r="2.5"/><circle cx="167.6" cy="145.8" r="2.5"/><circle cx="178.3" cy="144.8" r="2.5"/><circle cx="180.7" cy="145.1" r="2.5"/><circle cx="140.3" cy="149.0" r="2.5"/></g><path d="M177.40,115.50 L181.35,120.60 L177.40,125.70 L173.45,120.60 Z" fill="#f00" stroke="#800" stroke-width="0.5"/><text x="314.60" y="174.35" font-size="9.2" textLength="7.6" lengthAdjust="spacingAndGlyphs" fill="#000" stroke="#000" stroke-width="0.12">0°</text><text x="307.60" y="136.45" font-size="9.2" textLength="11.6" lengthAdjust="spacingAndGlyphs" fill="#000" stroke="#000" stroke-width="0.12">15°</text><text x="293.20" y="100.75" font-size="9.2" textLength="11.5" lengthAdjust="spacingAndGlyphs" fill="#000" stroke="#000" stroke-width="0.12">30°</text><text x="269.80" y="70.35" font-size="9.2" textLength="12.7" lengthAdjust="spacingAndGlyphs" fill="#000" stroke="#000" stroke-width="0.12">45°</text><text x="240.60" y="46.95" font-size="9.2" textLength="12.2" lengthAdjust="spacingAndGlyphs" fill="#000" stroke="#000" stroke-width="0.12">60°</text><text x="206.10" y="31.95" font-size="9.2" textLength="12.4" lengthAdjust="spacingAndGlyphs" fill="#000" stroke="#000" stroke-width="0.12">75°</text><text x="169.90" y="27.35" font-size="9.2" textLength="12.2" lengthAdjust="spacingAndGlyphs" fill="#000" stroke="#000" stroke-width="0.12">90°</text><text x="131.30" y="32.35" font-size="9.2" textLength="17.2" lengthAdjust="spacingAndGlyphs" fill="#000" stroke="#000" stroke-width="0.12">105°</text><text x="96.90" y="47.05" font-size="9.2" textLength="16.0" lengthAdjust="spacingAndGlyphs" fill="#000" stroke="#000" stroke-width="0.12">120°</text><text x="67.50" y="69.95" font-size="9.2" textLength="16.1" lengthAdjust="spacingAndGlyphs" fill="#000" stroke="#000" stroke-width="0.12">135°</text><text x="44.80" y="100.65" font-size="9.2" textLength="16.6" lengthAdjust="spacingAndGlyphs" fill="#000" stroke="#000" stroke-width="0.12">150°</text><text x="30.60" y="136.45" font-size="9.2" textLength="16.5" lengthAdjust="spacingAndGlyphs" fill="#000" stroke="#000" stroke-width="0.12">165°</text><text x="25.70" y="174.25" font-size="9.2" textLength="16.9" lengthAdjust="spacingAndGlyphs" fill="#000" stroke="#000" stroke-width="0.12">180°</text><text x="43.90" y="179.60" font-size="6.6" text-anchor="middle" fill="#000" stroke="#000" stroke-width="0.15">4</text><text x="76.70" y="179.60" font-size="6.6" text-anchor="middle" fill="#000" stroke="#000" stroke-width="0.15">3</text><text x="109.60" y="179.60" font-size="6.6" text-anchor="middle" fill="#000" stroke="#000" stroke-width="0.15">2</text><text x="142.90" y="179.60" font-size="6.6" text-anchor="middle" fill="#000" stroke="#000" stroke-width="0.15">1</text><text x="176.30" y="179.60" font-size="6.6" text-anchor="middle" fill="#000" stroke="#000" stroke-width="0.15">0</text><text x="209.10" y="179.60" font-size="6.6" text-anchor="middle" fill="#000" stroke="#000" stroke-width="0.15">1</text><text x="241.70" y="179.60" font-size="6.6" text-anchor="middle" fill="#000" stroke="#000" stroke-width="0.15">2</text><text x="274.50" y="179.60" font-size="6.6" text-anchor="middle" fill="#000" stroke="#000" stroke-width="0.15">3</text><text x="307.00" y="179.60" font-size="6.6" text-anchor="middle" fill="#000" stroke="#000" stroke-width="0.15">4</text><text x="176.30" y="192.50" font-size="9.3" font-weight="bold" text-anchor="middle" fill="#000">Diopters</text><text x="176.30" y="13.20" font-size="9.57" font-weight="bold" text-anchor="middle" fill="#000">Target Induced Astigmatism Vector</text><rect x="4.4" y="2.8" width="27.30" height="13.30" fill="#fff" stroke="#555" stroke-width="0.9"/><text x="8.80" y="11.90" font-size="7.0" textLength="20" lengthAdjust="spacingAndGlyphs" fill="#000" stroke="#000" stroke-width="0.1">+ve cyl</text><rect x="4.4" y="18.9" width="44.00" height="19.30" fill="#fff" stroke="#555" stroke-width="0.9"/><text x="8.80" y="25.80" font-size="6.33" fill="#000" stroke="#000" stroke-width="0.1">Arith. Mean:</text><text x="8.80" y="34.90" font-size="6.33" fill="#000" stroke="#000" stroke-width="0.1">1.61 D</text><g transform="translate(0.0,0.5)"><rect x="284.6" y="2.7" width="52.70" height="39.50" fill="#fff" stroke="#555" stroke-width="0.9"/><path d="M289.70,6.90 L292.20,10.10 L289.70,13.30 L287.20,10.10 Z" fill="#f00" stroke="#800" stroke-width="0.5"/><text x="295.70" y="11.80" font-size="6.42" fill="#000" stroke="#000" stroke-width="0.1">Vector Mean:</text><text x="295.70" y="20.80" font-size="6.42" fill="#000" stroke="#000" stroke-width="0.1">1.44 D Ax 88</text><text x="295.70" y="29.80" font-size="6.42" fill="#000" stroke="#000" stroke-width="0.1">SD X: 0.62</text><text x="295.70" y="38.80" font-size="6.42" fill="#000" stroke="#000" stroke-width="0.1">SD Y: 0.64</text></g><rect x="4.3" y="194.7" width="48.30" height="12.90" fill="#fff" stroke="#555" stroke-width="0.9"/><text x="8.80" y="204.10" font-size="6.43" fill="#000" stroke="#000" stroke-width="0.1">Polar diagram</text></g><g transform="translate(344.0,432.5)"><rect x="0.40" y="0.20" width="339.90" height="211.50" fill="#fff" stroke="#666" stroke-width="1"/><path d="M209.35,170.00 A33.05,34.12 0 0 0 143.25,170.00" fill="none" stroke="#b8b8b8" stroke-width="0.7"/><path d="M242.40,170.00 A66.10,68.25 0 0 0 110.20,170.00" fill="none" stroke="#b8b8b8" stroke-width="0.7"/><path d="M275.45,170.00 A99.15,102.38 0 0 0 77.15,170.00" fill="none" stroke="#b8b8b8" stroke-width="0.7"/><path d="M308.50,170.00 A132.20,136.50 0 0 0 44.10,170.00" fill="none" stroke="#b8b8b8" stroke-width="0.7"/><line x1="176.3" y1="170.0" x2="308.50" y2="170.00" stroke="#b8b8b8" stroke-width="0.7"/><line x1="176.3" y1="170.0" x2="304.00" y2="134.67" stroke="#b8b8b8" stroke-width="0.7"/><line x1="176.3" y1="170.0" x2="290.79" y2="101.75" stroke="#b8b8b8" stroke-width="0.7"/><line x1="176.3" y1="170.0" x2="269.78" y2="73.48" stroke="#b8b8b8" stroke-width="0.7"/><line x1="176.3" y1="170.0" x2="242.40" y2="51.79" stroke="#b8b8b8" stroke-width="0.7"/><line x1="176.3" y1="170.0" x2="210.52" y2="38.15" stroke="#b8b8b8" stroke-width="0.7"/><line x1="176.3" y1="170.0" x2="176.30" y2="33.50" stroke="#b8b8b8" stroke-width="0.7"/><line x1="176.3" y1="170.0" x2="142.08" y2="38.15" stroke="#b8b8b8" stroke-width="0.7"/><line x1="176.3" y1="170.0" x2="110.20" y2="51.79" stroke="#b8b8b8" stroke-width="0.7"/><line x1="176.3" y1="170.0" x2="82.82" y2="73.48" stroke="#b8b8b8" stroke-width="0.7"/><line x1="176.3" y1="170.0" x2="61.81" y2="101.75" stroke="#b8b8b8" stroke-width="0.7"/><line x1="176.3" y1="170.0" x2="48.60" y2="134.67" stroke="#b8b8b8" stroke-width="0.7"/><line x1="176.3" y1="170.0" x2="44.10" y2="170.00" stroke="#b8b8b8" stroke-width="0.7"/><path d="M176.30,170.00 L308.50,170.00 A132.20,136.50 0 0 0 290.79,101.75 Z" fill="rgba(20,20,245,0.15)"/><path d="M176.30,170.00 L61.81,101.75 A132.20,136.50 0 0 0 44.10,170.00 Z" fill="rgba(20,20,245,0.15)"/><path d="M176.30,170.00 L242.40,51.79 A132.20,136.50 0 0 0 110.20,51.79 Z" fill="rgba(250,20,20,0.15)"/><text x="80.30" y="144.70" font-size="34.5" font-weight="bold" textLength="191.5" lengthAdjust="spacingAndGlyphs" fill="rgba(60,60,90,0.10)">AstigMATIC</text><path d="M176.3,170.0L176.1,84.6M176.3,170.0L194.9,89.2M176.3,170.0L176.3,93.1M176.3,170.0L172.8,97.1M176.3,170.0L167.1,101.9M176.3,170.0L184.4,100.6M176.3,170.0L186.6,101.7M176.3,170.0L189.0,105.9M176.3,170.0L164.9,111.1M176.3,170.0L166.5,111.1M176.3,170.0L171.2,110.5M176.3,170.0L193.5,112.4M176.3,170.0L155.3,115.1M176.3,170.0L202.7,116.5M176.3,170.0L174.5,118.1M176.3,170.0L176.7,118.7M176.3,170.0L181.3,116.5M176.3,170.0L183.3,118.5M176.3,170.0L187.6,119.7M176.3,170.0L171.7,124.0M176.3,170.0L174.1,125.3M176.3,170.0L180.7,126.0M176.3,170.0L187.9,128.2M176.3,170.0L171.5,128.2M176.3,170.0L169.9,131.9M176.3,170.0L171.2,133.9M176.3,170.0L173.4,135.8M176.3,170.0L184.9,131.6M176.3,170.0L181.3,135.8M176.3,170.0L154.1,136.7M176.3,170.0L165.2,136.5M176.3,170.0L190.8,136.7M176.3,170.0L170.8,140.4M176.3,170.0L164.9,142.1M176.3,170.0L166.5,146.3M176.3,170.0L168.2,146.3M176.3,170.0L162.0,149.4M176.3,170.0L178.7,144.8M176.3,170.0L182.6,143.4M176.3,170.0L186.6,144.4M176.3,170.0L185.9,147.9M176.3,170.0L155.1,154.5M176.3,170.0L174.4,153.6M176.3,170.0L177.8,159.1M176.3,170.0L178.7,162.1" stroke="#000" stroke-width="0.55" fill="none"/><g fill="#0000ff" stroke="#000" stroke-width="0.5"><circle cx="176.1" cy="84.6" r="2.5"/><circle cx="194.9" cy="89.2" r="2.5"/><circle cx="176.3" cy="93.1" r="2.5"/><circle cx="172.8" cy="97.1" r="2.5"/><circle cx="167.1" cy="101.9" r="2.5"/><circle cx="184.4" cy="100.6" r="2.5"/><circle cx="186.6" cy="101.7" r="2.5"/><circle cx="189.0" cy="105.9" r="2.5"/><circle cx="164.9" cy="111.1" r="2.5"/><circle cx="166.5" cy="111.1" r="2.5"/><circle cx="171.2" cy="110.5" r="2.5"/><circle cx="193.5" cy="112.4" r="2.5"/><circle cx="155.3" cy="115.1" r="2.5"/><circle cx="202.7" cy="116.5" r="2.5"/><circle cx="174.5" cy="118.1" r="2.5"/><circle cx="176.7" cy="118.7" r="2.5"/><circle cx="181.3" cy="116.5" r="2.5"/><circle cx="183.3" cy="118.5" r="2.5"/><circle cx="187.6" cy="119.7" r="2.5"/><circle cx="171.7" cy="124.0" r="2.5"/><circle cx="174.1" cy="125.3" r="2.5"/><circle cx="180.7" cy="126.0" r="2.5"/><circle cx="187.9" cy="128.2" r="2.5"/><circle cx="171.5" cy="128.2" r="2.5"/><circle cx="169.9" cy="131.9" r="2.5"/><circle cx="171.2" cy="133.9" r="2.5"/><circle cx="173.4" cy="135.8" r="2.5"/><circle cx="184.9" cy="131.6" r="2.5"/><circle cx="181.3" cy="135.8" r="2.5"/><circle cx="154.1" cy="136.7" r="2.5"/><circle cx="165.2" cy="136.5" r="2.5"/><circle cx="190.8" cy="136.7" r="2.5"/><circle cx="170.8" cy="140.4" r="2.5"/><circle cx="164.9" cy="142.1" r="2.5"/><circle cx="166.5" cy="146.3" r="2.5"/><circle cx="168.2" cy="146.3" r="2.5"/><circle cx="162.0" cy="149.4" r="2.5"/><circle cx="178.7" cy="144.8" r="2.5"/><circle cx="182.6" cy="143.4" r="2.5"/><circle cx="186.6" cy="144.4" r="2.5"/><circle cx="185.9" cy="147.9" r="2.5"/><circle cx="155.1" cy="154.5" r="2.5"/><circle cx="174.4" cy="153.6" r="2.5"/><circle cx="177.8" cy="159.1" r="2.5"/><circle cx="178.7" cy="162.1" r="2.5"/></g><path d="M177.00,125.50 L180.95,130.60 L177.00,135.70 L173.05,130.60 Z" fill="#f00" stroke="#800" stroke-width="0.5"/><text x="314.60" y="174.35" font-size="9.2" textLength="7.6" lengthAdjust="spacingAndGlyphs" fill="#000" stroke="#000" stroke-width="0.12">0°</text><text x="307.60" y="136.45" font-size="9.2" textLength="11.6" lengthAdjust="spacingAndGlyphs" fill="#000" stroke="#000" stroke-width="0.12">15°</text><text x="293.20" y="100.75" font-size="9.2" textLength="11.5" lengthAdjust="spacingAndGlyphs" fill="#000" stroke="#000" stroke-width="0.12">30°</text><text x="269.80" y="70.35" font-size="9.2" textLength="12.7" lengthAdjust="spacingAndGlyphs" fill="#000" stroke="#000" stroke-width="0.12">45°</text><text x="240.60" y="46.95" font-size="9.2" textLength="12.2" lengthAdjust="spacingAndGlyphs" fill="#000" stroke="#000" stroke-width="0.12">60°</text><text x="206.10" y="31.95" font-size="9.2" textLength="12.4" lengthAdjust="spacingAndGlyphs" fill="#000" stroke="#000" stroke-width="0.12">75°</text><text x="169.90" y="27.35" font-size="9.2" textLength="12.2" lengthAdjust="spacingAndGlyphs" fill="#000" stroke="#000" stroke-width="0.12">90°</text><text x="131.30" y="32.35" font-size="9.2" textLength="17.2" lengthAdjust="spacingAndGlyphs" fill="#000" stroke="#000" stroke-width="0.12">105°</text><text x="96.90" y="47.05" font-size="9.2" textLength="16.0" lengthAdjust="spacingAndGlyphs" fill="#000" stroke="#000" stroke-width="0.12">120°</text><text x="67.50" y="69.95" font-size="9.2" textLength="16.1" lengthAdjust="spacingAndGlyphs" fill="#000" stroke="#000" stroke-width="0.12">135°</text><text x="44.80" y="100.65" font-size="9.2" textLength="16.6" lengthAdjust="spacingAndGlyphs" fill="#000" stroke="#000" stroke-width="0.12">150°</text><text x="30.60" y="136.45" font-size="9.2" textLength="16.5" lengthAdjust="spacingAndGlyphs" fill="#000" stroke="#000" stroke-width="0.12">165°</text><text x="25.70" y="174.25" font-size="9.2" textLength="16.9" lengthAdjust="spacingAndGlyphs" fill="#000" stroke="#000" stroke-width="0.12">180°</text><text x="43.90" y="179.60" font-size="6.6" text-anchor="middle" fill="#000" stroke="#000" stroke-width="0.15">4</text><text x="76.70" y="179.60" font-size="6.6" text-anchor="middle" fill="#000" stroke="#000" stroke-width="0.15">3</text><text x="109.60" y="179.60" font-size="6.6" text-anchor="middle" fill="#000" stroke="#000" stroke-width="0.15">2</text><text x="142.90" y="179.60" font-size="6.6" text-anchor="middle" fill="#000" stroke="#000" stroke-width="0.15">1</text><text x="176.30" y="179.60" font-size="6.6" text-anchor="middle" fill="#000" stroke="#000" stroke-width="0.15">0</text><text x="209.10" y="179.60" font-size="6.6" text-anchor="middle" fill="#000" stroke="#000" stroke-width="0.15">1</text><text x="241.70" y="179.60" font-size="6.6" text-anchor="middle" fill="#000" stroke="#000" stroke-width="0.15">2</text><text x="274.50" y="179.60" font-size="6.6" text-anchor="middle" fill="#000" stroke="#000" stroke-width="0.15">3</text><text x="307.00" y="179.60" font-size="6.6" text-anchor="middle" fill="#000" stroke="#000" stroke-width="0.15">4</text><text x="176.30" y="192.50" font-size="9.3" font-weight="bold" text-anchor="middle" fill="#000">Diopters</text><text x="176.30" y="13.20" font-size="9.57" font-weight="bold" text-anchor="middle" fill="#000">Surgically Induced Astigmatism Vector</text><rect x="4.4" y="2.8" width="27.30" height="13.30" fill="#fff" stroke="#555" stroke-width="0.9"/><text x="8.80" y="11.90" font-size="7.0" textLength="20" lengthAdjust="spacingAndGlyphs" fill="#000" stroke="#000" stroke-width="0.1">+ve cyl</text><rect x="4.4" y="18.9" width="44.00" height="19.30" fill="#fff" stroke="#555" stroke-width="0.9"/><text x="8.80" y="25.80" font-size="6.33" fill="#000" stroke="#000" stroke-width="0.1">Arith. Mean:</text><text x="8.80" y="34.90" font-size="6.33" fill="#000" stroke="#000" stroke-width="0.1">1.30 D</text><g transform="translate(0.7,0.5)"><rect x="284.6" y="2.7" width="52.70" height="39.50" fill="#fff" stroke="#555" stroke-width="0.9"/><path d="M289.70,6.90 L292.20,10.10 L289.70,13.30 L287.20,10.10 Z" fill="#f00" stroke="#800" stroke-width="0.5"/><text x="295.70" y="11.80" font-size="6.42" fill="#000" stroke="#000" stroke-width="0.1">Vector Mean:</text><text x="295.70" y="20.80" font-size="6.42" fill="#000" stroke="#000" stroke-width="0.1">1.16 D Ax 89</text><text x="295.70" y="29.80" font-size="6.42" fill="#000" stroke="#000" stroke-width="0.1">SD X: 0.56</text><text x="295.70" y="38.80" font-size="6.42" fill="#000" stroke="#000" stroke-width="0.1">SD Y: 0.53</text></g><rect x="4.3" y="194.7" width="48.30" height="12.90" fill="#fff" stroke="#555" stroke-width="0.9"/><text x="8.80" y="204.10" font-size="6.43" fill="#000" stroke="#000" stroke-width="0.1">Polar diagram</text></g><g transform="translate(0,649.2)"><rect x="0.50" y="0.10" width="339.70" height="211.10" fill="#fff" stroke="#666" stroke-width="1"/><path d="M209.35,170.00 A33.05,34.12 0 0 0 143.25,170.00" fill="none" stroke="#b8b8b8" stroke-width="0.7"/><path d="M242.40,170.00 A66.10,68.25 0 0 0 110.20,170.00" fill="none" stroke="#b8b8b8" stroke-width="0.7"/><path d="M275.45,170.00 A99.15,102.38 0 0 0 77.15,170.00" fill="none" stroke="#b8b8b8" stroke-width="0.7"/><path d="M308.50,170.00 A132.20,136.50 0 0 0 44.10,170.00" fill="none" stroke="#b8b8b8" stroke-width="0.7"/><line x1="176.3" y1="170.0" x2="308.50" y2="170.00" stroke="#b8b8b8" stroke-width="0.7"/><line x1="176.3" y1="170.0" x2="304.00" y2="134.67" stroke="#b8b8b8" stroke-width="0.7"/><line x1="176.3" y1="170.0" x2="290.79" y2="101.75" stroke="#b8b8b8" stroke-width="0.7"/><line x1="176.3" y1="170.0" x2="269.78" y2="73.48" stroke="#b8b8b8" stroke-width="0.7"/><line x1="176.3" y1="170.0" x2="242.40" y2="51.79" stroke="#b8b8b8" stroke-width="0.7"/><line x1="176.3" y1="170.0" x2="210.52" y2="38.15" stroke="#b8b8b8" stroke-width="0.7"/><line x1="176.3" y1="170.0" x2="176.30" y2="33.50" stroke="#b8b8b8" stroke-width="0.7"/><line x1="176.3" y1="170.0" x2="142.08" y2="38.15" stroke="#b8b8b8" stroke-width="0.7"/><line x1="176.3" y1="170.0" x2="110.20" y2="51.79" stroke="#b8b8b8" stroke-width="0.7"/><line x1="176.3" y1="170.0" x2="82.82" y2="73.48" stroke="#b8b8b8" stroke-width="0.7"/><line x1="176.3" y1="170.0" x2="61.81" y2="101.75" stroke="#b8b8b8" stroke-width="0.7"/><line x1="176.3" y1="170.0" x2="48.60" y2="134.67" stroke="#b8b8b8" stroke-width="0.7"/><line x1="176.3" y1="170.0" x2="44.10" y2="170.00" stroke="#b8b8b8" stroke-width="0.7"/><path d="M176.30,170.00 L308.50,170.00 A132.20,136.50 0 0 0 290.79,101.75 Z" fill="rgba(20,20,245,0.15)"/><path d="M176.30,170.00 L61.81,101.75 A132.20,136.50 0 0 0 44.10,170.00 Z" fill="rgba(20,20,245,0.15)"/><path d="M176.30,170.00 L242.40,51.79 A132.20,136.50 0 0 0 110.20,51.79 Z" fill="rgba(250,20,20,0.15)"/><text x="80.30" y="144.70" font-size="34.5" font-weight="bold" textLength="191.5" lengthAdjust="spacingAndGlyphs" fill="rgba(60,60,90,0.10)">AstigMATIC</text><path d="M176.3,170.0L175.5,127.3M176.3,170.0L192.9,131.0M176.3,170.0L173.7,135.8M176.3,170.0L177.3,135.8M176.3,170.0L182.4,136.6M176.3,170.0L167.4,146.0M176.3,170.0L169.6,145.5M176.3,170.0L178.6,144.4M176.3,170.0L181.4,145.2M176.3,170.0L182.9,145.8M176.3,170.0L189.4,148.5M176.3,170.0L160.4,150.1M176.3,170.0L156.6,154.5M176.3,170.0L167.1,155.5M176.3,170.0L172.5,153.1M176.3,170.0L175.8,152.9M176.3,170.0L180.7,154.0M176.3,170.0L183.9,155.4M176.3,170.0L163.7,158.8M176.3,170.0L161.3,162.3M176.3,170.0L171.2,163.4M176.3,170.0L180.9,163.4M176.3,170.0L183.4,166.4M176.3,170.0L159.9,168.5M176.3,170.0L168.4,166.9M176.3,170.0L167.8,170.0M176.3,170.0L176.0,170.2M176.3,170.0L160.4,163.9" stroke="#000" stroke-width="0.55" fill="none"/><g fill="#0000ff" stroke="#000" stroke-width="0.5"><circle cx="175.5" cy="127.3" r="2.5"/><circle cx="192.9" cy="131.0" r="2.5"/><circle cx="173.7" cy="135.8" r="2.5"/><circle cx="177.3" cy="135.8" r="2.5"/><circle cx="182.4" cy="136.6" r="2.5"/><circle cx="167.4" cy="146.0" r="2.5"/><circle cx="169.6" cy="145.5" r="2.5"/><circle cx="178.6" cy="144.4" r="2.5"/><circle cx="181.4" cy="145.2" r="2.5"/><circle cx="182.9" cy="145.8" r="2.5"/><circle cx="189.4" cy="148.5" r="2.5"/><circle cx="160.4" cy="150.1" r="2.5"/><circle cx="156.6" cy="154.5" r="2.5"/><circle cx="167.1" cy="155.5" r="2.5"/><circle cx="172.5" cy="153.1" r="2.5"/><circle cx="175.8" cy="152.9" r="2.5"/><circle cx="180.7" cy="154.0" r="2.5"/><circle cx="183.9" cy="155.4" r="2.5"/><circle cx="163.7" cy="158.8" r="2.5"/><circle cx="161.3" cy="162.3" r="2.5"/><circle cx="171.2" cy="163.4" r="2.5"/><circle cx="180.9" cy="163.4" r="2.5"/><circle cx="183.4" cy="166.4" r="2.5"/><circle cx="159.9" cy="168.5" r="2.5"/><circle cx="168.4" cy="166.9" r="2.5"/><circle cx="167.8" cy="170.0" r="2.5"/><circle cx="176.0" cy="170.2" r="2.5"/><circle cx="160.4" cy="163.9" r="2.5"/></g><path d="M176.60,155.70 L180.55,160.80 L176.60,165.90 L172.65,160.80 Z" fill="#f00" stroke="#800" stroke-width="0.5"/><text x="314.60" y="174.35" font-size="9.2" textLength="7.6" lengthAdjust="spacingAndGlyphs" fill="#000" stroke="#000" stroke-width="0.12">0°</text><text x="307.60" y="136.45" font-size="9.2" textLength="11.6" lengthAdjust="spacingAndGlyphs" fill="#000" stroke="#000" stroke-width="0.12">15°</text><text x="293.20" y="100.75" font-size="9.2" textLength="11.5" lengthAdjust="spacingAndGlyphs" fill="#000" stroke="#000" stroke-width="0.12">30°</text><text x="269.80" y="70.35" font-size="9.2" textLength="12.7" lengthAdjust="spacingAndGlyphs" fill="#000" stroke="#000" stroke-width="0.12">45°</text><text x="240.60" y="46.95" font-size="9.2" textLength="12.2" lengthAdjust="spacingAndGlyphs" fill="#000" stroke="#000" stroke-width="0.12">60°</text><text x="206.10" y="31.95" font-size="9.2" textLength="12.4" lengthAdjust="spacingAndGlyphs" fill="#000" stroke="#000" stroke-width="0.12">75°</text><text x="169.90" y="27.35" font-size="9.2" textLength="12.2" lengthAdjust="spacingAndGlyphs" fill="#000" stroke="#000" stroke-width="0.12">90°</text><text x="131.30" y="32.35" font-size="9.2" textLength="17.2" lengthAdjust="spacingAndGlyphs" fill="#000" stroke="#000" stroke-width="0.12">105°</text><text x="96.90" y="47.05" font-size="9.2" textLength="16.0" lengthAdjust="spacingAndGlyphs" fill="#000" stroke="#000" stroke-width="0.12">120°</text><text x="67.50" y="69.95" font-size="9.2" textLength="16.1" lengthAdjust="spacingAndGlyphs" fill="#000" stroke="#000" stroke-width="0.12">135°</text><text x="44.80" y="100.65" font-size="9.2" textLength="16.6" lengthAdjust="spacingAndGlyphs" fill="#000" stroke="#000" stroke-width="0.12">150°</text><text x="30.60" y="136.45" font-size="9.2" textLength="16.5" lengthAdjust="spacingAndGlyphs" fill="#000" stroke="#000" stroke-width="0.12">165°</text><text x="25.70" y="174.25" font-size="9.2" textLength="16.9" lengthAdjust="spacingAndGlyphs" fill="#000" stroke="#000" stroke-width="0.12">180°</text><text x="43.90" y="179.60" font-size="6.6" text-anchor="middle" fill="#000" stroke="#000" stroke-width="0.15">4</text><text x="76.70" y="179.60" font-size="6.6" text-anchor="middle" fill="#000" stroke="#000" stroke-width="0.15">3</text><text x="109.60" y="179.60" font-size="6.6" text-anchor="middle" fill="#000" stroke="#000" stroke-width="0.15">2</text><text x="142.90" y="179.60" font-size="6.6" text-anchor="middle" fill="#000" stroke="#000" stroke-width="0.15">1</text><text x="176.30" y="179.60" font-size="6.6" text-anchor="middle" fill="#000" stroke="#000" stroke-width="0.15">0</text><text x="209.10" y="179.60" font-size="6.6" text-anchor="middle" fill="#000" stroke="#000" stroke-width="0.15">1</text><text x="241.70" y="179.60" font-size="6.6" text-anchor="middle" fill="#000" stroke="#000" stroke-width="0.15">2</text><text x="274.50" y="179.60" font-size="6.6" text-anchor="middle" fill="#000" stroke="#000" stroke-width="0.15">3</text><text x="307.00" y="179.60" font-size="6.6" text-anchor="middle" fill="#000" stroke="#000" stroke-width="0.15">4</text><text x="176.30" y="192.50" font-size="9.3" font-weight="bold" text-anchor="middle" fill="#000">Diopters</text><text x="176.30" y="13.20" font-size="9.57" font-weight="bold" text-anchor="middle" fill="#000">Difference Vector</text><rect x="4.4" y="2.8" width="27.30" height="13.30" fill="#fff" stroke="#555" stroke-width="0.9"/><text x="8.80" y="11.90" font-size="7.0" textLength="20" lengthAdjust="spacingAndGlyphs" fill="#000" stroke="#000" stroke-width="0.1">+ve cyl</text><rect x="4.4" y="19.5" width="44.00" height="19.30" fill="#fff" stroke="#555" stroke-width="0.9"/><text x="8.80" y="26.40" font-size="6.33" fill="#000" stroke="#000" stroke-width="0.1">Arith. Mean:</text><text x="8.80" y="35.50" font-size="6.33" fill="#000" stroke="#000" stroke-width="0.1">0.47 D</text><g transform="translate(0.0,0.0)"><rect x="284.6" y="2.7" width="52.70" height="39.50" fill="#fff" stroke="#555" stroke-width="0.9"/><path d="M289.70,6.90 L292.20,10.10 L289.70,13.30 L287.20,10.10 Z" fill="#f00" stroke="#800" stroke-width="0.5"/><text x="295.70" y="11.80" font-size="6.42" fill="#000" stroke="#000" stroke-width="0.1">Vector Mean:</text><text x="295.70" y="20.80" font-size="6.42" fill="#000" stroke="#000" stroke-width="0.1">0.28 D Ax 86</text><text x="295.70" y="29.80" font-size="6.42" fill="#000" stroke="#000" stroke-width="0.1">SD X: 0.36</text><text x="295.70" y="38.80" font-size="6.42" fill="#000" stroke="#000" stroke-width="0.1">SD Y: 0.31</text></g><rect x="4.3" y="194.7" width="48.30" height="12.90" fill="#fff" stroke="#555" stroke-width="0.9"/><text x="8.80" y="204.10" font-size="6.43" fill="#000" stroke="#000" stroke-width="0.1">Polar diagram</text></g><g transform="translate(344.0,649.2)"><rect x="0.40" y="0.10" width="339.90" height="211.10" fill="#fff" stroke="#666" stroke-width="1"/><path d="M209.35,170.00 A33.05,34.12 0 0 0 143.25,170.00" fill="none" stroke="#b8b8b8" stroke-width="0.7"/><path d="M242.40,170.00 A66.10,68.25 0 0 0 110.20,170.00" fill="none" stroke="#b8b8b8" stroke-width="0.7"/><path d="M275.45,170.00 A99.15,102.38 0 0 0 77.15,170.00" fill="none" stroke="#b8b8b8" stroke-width="0.7"/><path d="M308.50,170.00 A132.20,136.50 0 0 0 44.10,170.00" fill="none" stroke="#b8b8b8" stroke-width="0.7"/><line x1="176.3" y1="170.0" x2="308.50" y2="170.00" stroke="#b8b8b8" stroke-width="0.7"/><line x1="176.3" y1="170.0" x2="304.00" y2="134.67" stroke="#b8b8b8" stroke-width="0.7"/><line x1="176.3" y1="170.0" x2="290.79" y2="101.75" stroke="#b8b8b8" stroke-width="0.7"/><line x1="176.3" y1="170.0" x2="269.78" y2="73.48" stroke="#b8b8b8" stroke-width="0.7"/><line x1="176.3" y1="170.0" x2="242.40" y2="51.79" stroke="#b8b8b8" stroke-width="0.7"/><line x1="176.3" y1="170.0" x2="210.52" y2="38.15" stroke="#b8b8b8" stroke-width="0.7"/><line x1="176.3" y1="170.0" x2="176.30" y2="33.50" stroke="#b8b8b8" stroke-width="0.7"/><line x1="176.3" y1="170.0" x2="142.08" y2="38.15" stroke="#b8b8b8" stroke-width="0.7"/><line x1="176.3" y1="170.0" x2="110.20" y2="51.79" stroke="#b8b8b8" stroke-width="0.7"/><line x1="176.3" y1="170.0" x2="82.82" y2="73.48" stroke="#b8b8b8" stroke-width="0.7"/><line x1="176.3" y1="170.0" x2="61.81" y2="101.75" stroke="#b8b8b8" stroke-width="0.7"/><line x1="176.3" y1="170.0" x2="48.60" y2="134.67" stroke="#b8b8b8" stroke-width="0.7"/><line x1="176.3" y1="170.0" x2="44.10" y2="170.00" stroke="#b8b8b8" stroke-width="0.7"/><path d="M176.30,170.00 L308.50,170.00 A132.20,136.50 0 0 0 290.79,101.75 Z" fill="rgba(20,20,245,0.15)"/><path d="M176.30,170.00 L61.81,101.75 A132.20,136.50 0 0 0 44.10,170.00 Z" fill="rgba(20,20,245,0.15)"/><path d="M176.30,170.00 L242.40,51.79 A132.20,136.50 0 0 0 110.20,51.79 Z" fill="rgba(250,20,20,0.15)"/><text x="80.30" y="144.70" font-size="34.5" font-weight="bold" textLength="191.5" lengthAdjust="spacingAndGlyphs" fill="rgba(60,60,90,0.10)">AstigMATIC</text><path d="M209.35,170.00 A33.05,34.12 0 0 0 143.25,170.00" fill="none" stroke="#000" stroke-width="1.8"/><path d="M176.3,170.0L184.0,125.0M176.3,170.0L176.1,127.2M176.3,170.0L176.4,130.4M176.3,170.0L183.2,129.4M176.3,170.0L156.7,134.9M176.3,170.0L163.2,132.6M176.3,170.0L164.2,135.5M176.3,170.0L167.6,134.5M176.3,170.0L176.1,134.0M176.3,170.0L182.6,134.5M176.3,170.0L171.3,140.3M176.3,170.0L176.4,138.9M176.3,170.0L181.2,139.6M176.3,170.0L185.1,138.9M176.3,170.0L172.4,145.4M176.3,170.0L177.1,144.0M176.3,170.0L180.7,145.4M176.3,170.0L187.6,145.9M176.3,170.0L162.1,149.4M176.3,170.0L168.6,148.4M176.3,170.0L174.2,148.4M176.3,170.0L180.0,150.1M176.3,170.0L184.4,151.0M176.3,170.0L169.8,151.3M176.3,170.0L177.8,152.7M176.3,170.0L182.9,152.0M176.3,170.0L171.3,154.6M176.3,170.0L175.6,158.6M176.3,170.0L180.7,160.0M176.3,170.0L158.4,159.3M176.3,170.0L174.2,154.9M176.3,170.0L169.5,137.3M176.3,170.0L173.5,136.8M176.3,170.0L179.0,136.8M176.3,170.0L183.0,137.3M176.3,170.0L168.5,142.8M176.3,170.0L183.5,142.3M176.3,170.0L170.0,146.8M176.3,170.0L175.5,146.8M176.3,170.0L182.5,147.8M176.3,170.0L172.0,152.8M176.3,170.0L179.5,154.8M176.3,170.0L178.0,158.8M176.3,170.0L173.0,156.8" stroke="#000" stroke-width="0.55" fill="none"/><g fill="#0000ff" stroke="#000" stroke-width="0.5"><circle cx="184.0" cy="125.0" r="2.5"/><circle cx="176.1" cy="127.2" r="2.5"/><circle cx="176.4" cy="130.4" r="2.5"/><circle cx="183.2" cy="129.4" r="2.5"/><circle cx="156.7" cy="134.9" r="2.5"/><circle cx="163.2" cy="132.6" r="2.5"/><circle cx="164.2" cy="135.5" r="2.5"/><circle cx="167.6" cy="134.5" r="2.5"/><circle cx="176.1" cy="134.0" r="2.5"/><circle cx="182.6" cy="134.5" r="2.5"/><circle cx="171.3" cy="140.3" r="2.5"/><circle cx="176.4" cy="138.9" r="2.5"/><circle cx="181.2" cy="139.6" r="2.5"/><circle cx="185.1" cy="138.9" r="2.5"/><circle cx="172.4" cy="145.4" r="2.5"/><circle cx="177.1" cy="144.0" r="2.5"/><circle cx="180.7" cy="145.4" r="2.5"/><circle cx="187.6" cy="145.9" r="2.5"/><circle cx="162.1" cy="149.4" r="2.5"/><circle cx="168.6" cy="148.4" r="2.5"/><circle cx="174.2" cy="148.4" r="2.5"/><circle cx="180.0" cy="150.1" r="2.5"/><circle cx="184.4" cy="151.0" r="2.5"/><circle cx="169.8" cy="151.3" r="2.5"/><circle cx="177.8" cy="152.7" r="2.5"/><circle cx="182.9" cy="152.0" r="2.5"/><circle cx="171.3" cy="154.6" r="2.5"/><circle cx="175.6" cy="158.6" r="2.5"/><circle cx="180.7" cy="160.0" r="2.5"/><circle cx="158.4" cy="159.3" r="2.5"/><circle cx="174.2" cy="154.9" r="2.5"/><circle cx="169.5" cy="137.3" r="2.5"/><circle cx="173.5" cy="136.8" r="2.5"/><circle cx="179.0" cy="136.8" r="2.5"/><circle cx="183.0" cy="137.3" r="2.5"/><circle cx="168.5" cy="142.8" r="2.5"/><circle cx="183.5" cy="142.3" r="2.5"/><circle cx="170.0" cy="146.8" r="2.5"/><circle cx="175.5" cy="146.8" r="2.5"/><circle cx="182.5" cy="147.8" r="2.5"/><circle cx="172.0" cy="152.8" r="2.5"/><circle cx="179.5" cy="154.8" r="2.5"/><circle cx="178.0" cy="158.8" r="2.5"/><circle cx="173.0" cy="156.8" r="2.5"/></g><text x="314.60" y="174.35" font-size="9.2" textLength="7.6" lengthAdjust="spacingAndGlyphs" fill="#000" stroke="#000" stroke-width="0.12">0°</text><text x="307.60" y="136.45" font-size="9.2" textLength="11.6" lengthAdjust="spacingAndGlyphs" fill="#000" stroke="#000" stroke-width="0.12">15°</text><text x="293.20" y="100.75" font-size="9.2" textLength="11.5" lengthAdjust="spacingAndGlyphs" fill="#000" stroke="#000" stroke-width="0.12">30°</text><text x="269.80" y="70.35" font-size="9.2" textLength="12.7" lengthAdjust="spacingAndGlyphs" fill="#000" stroke="#000" stroke-width="0.12">45°</text><text x="240.60" y="46.95" font-size="9.2" textLength="12.2" lengthAdjust="spacingAndGlyphs" fill="#000" stroke="#000" stroke-width="0.12">60°</text><text x="206.10" y="31.95" font-size="9.2" textLength="12.4" lengthAdjust="spacingAndGlyphs" fill="#000" stroke="#000" stroke-width="0.12">75°</text><text x="169.90" y="27.35" font-size="9.2" textLength="12.2" lengthAdjust="spacingAndGlyphs" fill="#000" stroke="#000" stroke-width="0.12">90°</text><text x="131.30" y="32.35" font-size="9.2" textLength="17.2" lengthAdjust="spacingAndGlyphs" fill="#000" stroke="#000" stroke-width="0.12">105°</text><text x="96.90" y="47.05" font-size="9.2" textLength="16.0" lengthAdjust="spacingAndGlyphs" fill="#000" stroke="#000" stroke-width="0.12">120°</text><text x="67.50" y="69.95" font-size="9.2" textLength="16.1" lengthAdjust="spacingAndGlyphs" fill="#000" stroke="#000" stroke-width="0.12">135°</text><text x="44.80" y="100.65" font-size="9.2" textLength="16.6" lengthAdjust="spacingAndGlyphs" fill="#000" stroke="#000" stroke-width="0.12">150°</text><text x="30.60" y="136.45" font-size="9.2" textLength="16.5" lengthAdjust="spacingAndGlyphs" fill="#000" stroke="#000" stroke-width="0.12">165°</text><text x="25.70" y="174.25" font-size="9.2" textLength="16.9" lengthAdjust="spacingAndGlyphs" fill="#000" stroke="#000" stroke-width="0.12">180°</text><text x="43.90" y="179.60" font-size="6.6" text-anchor="middle" fill="#000" stroke="#000" stroke-width="0.15">4</text><text x="76.70" y="179.60" font-size="6.6" text-anchor="middle" fill="#000" stroke="#000" stroke-width="0.15">3</text><text x="109.60" y="179.60" font-size="6.6" text-anchor="middle" fill="#000" stroke="#000" stroke-width="0.15">2</text><text x="142.90" y="179.60" font-size="6.6" text-anchor="middle" fill="#000" stroke="#000" stroke-width="0.15">1</text><text x="176.30" y="179.60" font-size="6.6" text-anchor="middle" fill="#000" stroke="#000" stroke-width="0.15">0</text><text x="209.10" y="179.60" font-size="6.6" text-anchor="middle" fill="#000" stroke="#000" stroke-width="0.15">1</text><text x="241.70" y="179.60" font-size="6.6" text-anchor="middle" fill="#000" stroke="#000" stroke-width="0.15">2</text><text x="274.50" y="179.60" font-size="6.6" text-anchor="middle" fill="#000" stroke="#000" stroke-width="0.15">3</text><text x="307.00" y="179.60" font-size="6.6" text-anchor="middle" fill="#000" stroke="#000" stroke-width="0.15">4</text><text x="176.30" y="192.50" font-size="9.3" font-weight="bold" text-anchor="middle" fill="#000">Index</text><text x="176.30" y="13.20" font-size="9.57" font-weight="bold" text-anchor="middle" fill="#000">Correction Index</text><rect x="4.0" y="3.1" width="48.30" height="38.60" fill="#fff" stroke="#555" stroke-width="0.9"/><text x="8.00" y="12.20" font-size="6.33" fill="#000" stroke="#000" stroke-width="0.1">Arith. Mean:</text><text x="8.00" y="21.15" font-size="6.33" fill="#000" stroke="#000" stroke-width="0.1">0.82</text><text x="8.00" y="30.10" font-size="6.33" fill="#000" stroke="#000" stroke-width="0.1">Geom. Mean:</text><text x="8.00" y="39.05" font-size="6.33" fill="#000" stroke="#000" stroke-width="0.1">0.78</text></g><text x="59.90" y="16.90" font-size="12.9" font-weight="bold" textLength="9.3" lengthAdjust="spacingAndGlyphs" fill="#000">A</text><text x="5.10" y="64.80" font-size="11.0" font-weight="bold" textLength="50.8" lengthAdjust="spacingAndGlyphs" fill="#000" stroke="#000" stroke-width="0.15">Right Eye</text><rect x="296" y="47" width="102" height="15.5" fill="#fff"/><text x="298.00" y="58.80" font-size="8.95" font-weight="bold" textLength="98" lengthAdjust="spacingAndGlyphs" fill="#000" stroke="#000" stroke-width="0.1">Refractive astigmatism</text><text x="57.90" y="446.80" font-size="10.8" font-weight="bold" textLength="5.7" lengthAdjust="spacingAndGlyphs" fill="#000" stroke="#000" stroke-width="0.6">B</text><text x="6.10" y="494.80" font-size="10.6" font-weight="bold" textLength="41.2" lengthAdjust="spacingAndGlyphs" fill="#000" stroke="#000" stroke-width="0.15">Left Eye</text><rect x="296" y="482.3" width="102" height="14.3" fill="#fff"/><text x="298.00" y="493.50" font-size="8.95" font-weight="bold" textLength="98" lengthAdjust="spacingAndGlyphs" fill="#000" stroke="#000" stroke-width="0.1">Refractive astigmatism</text>
</svg></body></html>
